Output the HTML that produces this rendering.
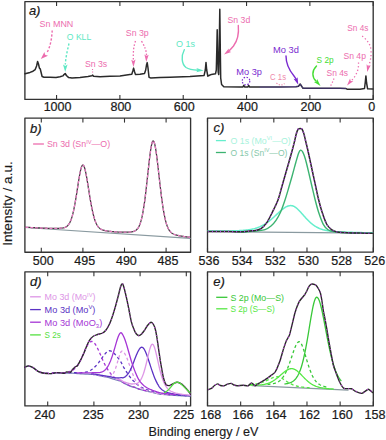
<!DOCTYPE html>
<html><head><meta charset="utf-8"><style>
html,body{margin:0;padding:0;background:#fff;width:386px;height:440px;overflow:hidden;}
svg{display:block;}
</style></head><body>
<svg width="386" height="440" viewBox="0 0 386 440" font-family='"Liberation Sans", sans-serif'>
<rect width="386" height="440" fill="#fff"/>
<rect x="24.9" y="1.6" width="348.3" height="97.8" fill="none" stroke="#333333" stroke-width="1.35" stroke-linejoin="round"/>
<line x1="56.56" y1="1.6" x2="56.56" y2="6.1" stroke="#333333" stroke-width="1.1"/>
<line x1="56.56" y1="99.4" x2="56.56" y2="94.9" stroke="#333333" stroke-width="1.1"/>
<line x1="119.89" y1="1.6" x2="119.89" y2="6.1" stroke="#333333" stroke-width="1.1"/>
<line x1="119.89" y1="99.4" x2="119.89" y2="94.9" stroke="#333333" stroke-width="1.1"/>
<line x1="183.22" y1="1.6" x2="183.22" y2="6.1" stroke="#333333" stroke-width="1.1"/>
<line x1="183.22" y1="99.4" x2="183.22" y2="94.9" stroke="#333333" stroke-width="1.1"/>
<line x1="246.55" y1="1.6" x2="246.55" y2="6.1" stroke="#333333" stroke-width="1.1"/>
<line x1="246.55" y1="99.4" x2="246.55" y2="94.9" stroke="#333333" stroke-width="1.1"/>
<line x1="309.87" y1="1.6" x2="309.87" y2="6.1" stroke="#333333" stroke-width="1.1"/>
<line x1="309.87" y1="99.4" x2="309.87" y2="94.9" stroke="#333333" stroke-width="1.1"/>
<line x1="373.2" y1="1.6" x2="373.2" y2="6.1" stroke="#333333" stroke-width="1.1"/>
<line x1="373.2" y1="99.4" x2="373.2" y2="94.9" stroke="#333333" stroke-width="1.1"/>
<text x="57.56" y="111.2" font-size="12.5" fill="#1a1a1a" text-anchor="middle" stroke="#1a1a1a" stroke-width="0.22">1000</text>
<text x="120.89" y="111.2" font-size="12.5" fill="#1a1a1a" text-anchor="middle" stroke="#1a1a1a" stroke-width="0.22">800</text>
<text x="184.22" y="111.2" font-size="12.5" fill="#1a1a1a" text-anchor="middle" stroke="#1a1a1a" stroke-width="0.22">600</text>
<text x="247.55" y="111.2" font-size="12.5" fill="#1a1a1a" text-anchor="middle" stroke="#1a1a1a" stroke-width="0.22">400</text>
<text x="310.87" y="111.2" font-size="12.5" fill="#1a1a1a" text-anchor="middle" stroke="#1a1a1a" stroke-width="0.22">200</text>
<text x="371.8" y="111.2" font-size="12.5" fill="#1a1a1a" text-anchor="middle" stroke="#1a1a1a" stroke-width="0.22">0</text>
<path d="M25 73.7 L30 72.4 L33 71.2 L35.2 69.6 L36.6 66 L37.6 61.4 L38.5 64 L39.4 68.2 L40.2 68.8 L41 72 L42.1 76.5 L44 77.2 L50 77.3 L56 77.5 L60 76.8 L62.9 75.9 L64 74.6 L65.2 73.5 L66.4 75.5 L68.7 77.6 L72 78 L80 77.4 L88 76.6 L91.8 75.8 L92.7 75.1 L93.6 76.2 L100 76.8 L110 76.3 L120 75.9 L129.8 74.6 L131.8 74.3 L132.8 71 L133.6 68.1 L134.5 71.5 L135.4 74.4 L140 74.3 L144.5 73.5 L145.7 70 L146.5 65 L147.2 62.6 L148 68 L149 77.2 L150.5 77.9 L160 77.6 L170 77.3 L190 76.4 L204.1 75.4 L205.3 70 L206 62.4 L206.7 70 L207.8 76.2 L209 75.5 L211.4 74.4 L215.5 73.8 L216.3 70 L216.8 50 L217.2 29.8 L217.6 50 L218.2 72 L218.7 74.5 L219.2 50 L219.8 9.2 L220.3 50 L220.7 78 L221.6 84.5 L223.8 86.7 L240 86.9 L243 86.9 L243.8 85.4 L244.6 86.9 L248 86.9 L248.7 85.4 L249.5 87 L260 87.1 L280 87 L296 86.7 L298.5 86.2 L300.2 84 L301.8 86.5 L303 88.2 L320 88.2 L340 88.3 L345.6 88.4 L347 89.2 L360 89.2 L364.5 88.5 L365.3 82 L365.9 75.9 L366.6 83 L367.6 88.8 L373 89" fill="none" stroke="#2a2a2a" stroke-width="1.5" stroke-linejoin="round" stroke-linecap="round"/>
<path d="M260 87.1 L280 87 L296 86.7 L298.5 86.2 L300.2 84 L301.8 86.5 L303 88.2 L320 88.2 L340 88.3 L345.6 88.4" fill="none" stroke="#5a3cc0" stroke-width="1" stroke-linejoin="round" stroke-linecap="round" stroke-opacity="0.5"/>
<text x="28.9" y="14.9" font-size="13" fill="#1a1a1a" font-style="italic" stroke="#1a1a1a" stroke-width="0.2">a)</text>
<text x="39.6" y="27.2" font-size="9.4" fill="#ec6cae" textLength="33.7" lengthAdjust="spacingAndGlyphs">Sn MNN</text>
<path d="M52.2 30.5 C51.8 38 50.5 47 46.5 53.5" fill="none" stroke="#ec6cae" stroke-width="1.4" stroke-linejoin="round" stroke-linecap="butt" stroke-dasharray="2.2 1.8"/>
<path d="M40.8 59 L44.38 51.92 L45.11 54.83 L48 55.65 Z" fill="#ec6cae"/>
<text x="66.8" y="40.2" font-size="9.4" fill="#5ee8c4" textLength="24.4" lengthAdjust="spacingAndGlyphs">O KLL</text>
<path d="M69 43.5 C67.5 50 65.8 57 65.3 64.5" fill="none" stroke="#5ee8c4" stroke-width="1.4" stroke-linejoin="round" stroke-linecap="butt" stroke-dasharray="2.2 1.8"/>
<path d="M65.2 72 L62.99 64.47 L65.27 66 L67.59 64.53 Z" fill="#5ee8c4"/>
<text x="84.9" y="66.7" font-size="9.4" fill="#ec6cae" textLength="22.3" lengthAdjust="spacingAndGlyphs">Sn 3s</text>
<path d="M92.5 69 L92.7 74" fill="none" stroke="#ec6cae" stroke-width="1.1" stroke-linejoin="round" stroke-linecap="butt" stroke-dasharray="1 1.5"/>
<text x="125.8" y="36" font-size="9.4" fill="#ec6cae" textLength="22.9" lengthAdjust="spacingAndGlyphs">Sn 3p</text>
<path d="M135.5 41 C133 48 133.2 55 133.4 61" fill="none" stroke="#ec6cae" stroke-width="1.3" stroke-linejoin="round" stroke-linecap="butt" stroke-dasharray="1.6 1.8"/>
<path d="M133.5 67 L131.24 59.63 L133.41 61.08 L135.54 59.57 Z" fill="#ec6cae"/>
<path d="M141.5 41 C145 47 146.5 51 146.5 56" fill="none" stroke="#ec6cae" stroke-width="1.3" stroke-linejoin="round" stroke-linecap="butt" stroke-dasharray="1.6 1.8"/>
<path d="M146.3 62 L144.38 54.54 L146.48 56.08 L148.68 54.67 Z" fill="#ec6cae"/>
<text x="176" y="46.6" font-size="9.4" fill="#5ee8c4" textLength="19.1" lengthAdjust="spacingAndGlyphs">O 1s</text>
<path d="M184.3 49.7 C181 56 181.5 64 186 67.5 C189 69.5 193 70 198 70.2" fill="none" stroke="#5ee8c4" stroke-width="1.4" stroke-linejoin="round" stroke-linecap="round"/>
<path d="M203.7 70.4 L196.23 72.31 L197.78 70.21 L196.37 68.01 Z" fill="#5ee8c4"/>
<text x="227.6" y="23.2" font-size="9.4" fill="#ec6cae" textLength="22.6" lengthAdjust="spacingAndGlyphs">Sn 3d</text>
<path d="M238.3 25.5 C239 33 238 40 233.5 46 C231 49 229 51 228.5 51.5" fill="none" stroke="#ec6cae" stroke-width="1.4" stroke-linejoin="round" stroke-linecap="round"/>
<path d="M224 54.5 L228.72 48.41 L228.79 51.02 L231.25 51.89 Z" fill="#ec6cae"/>
<text x="236.3" y="75.1" font-size="9.4" fill="#7a2bd0" textLength="25.7" lengthAdjust="spacingAndGlyphs">Mo 3p</text>
<ellipse cx="246" cy="81" rx="3.8" ry="3.8" fill="none" stroke="#7a2bd0" stroke-width="1.2" stroke-dasharray="1.5 1.5"/>
<text x="270.1" y="80.4" font-size="9.4" fill="#ee88aa" textLength="15.9" lengthAdjust="spacingAndGlyphs">C 1s</text>
<path d="M276.5 83 C279 85.5 282.5 85.5 284.5 83.5" fill="none" stroke="#ee88aa" stroke-width="1.1" stroke-linejoin="round" stroke-linecap="butt" stroke-dasharray="1.2 1.5"/>
<text x="273" y="52.6" font-size="9.4" fill="#7a2bd0" textLength="25.9" lengthAdjust="spacingAndGlyphs">Mo 3d</text>
<path d="M286 56 C286 63 289 70 294 76 C295.5 78 296 79 296.3 79.5" fill="none" stroke="#7a2bd0" stroke-width="1.4" stroke-linejoin="round" stroke-linecap="round"/>
<path d="M298.3 84.8 L293.57 78.71 L296.12 79.3 L297.57 77.13 Z" fill="#7a2bd0"/>
<text x="316.6" y="62.8" font-size="9.4" fill="#44dd33" textLength="17" lengthAdjust="spacingAndGlyphs">S 2p</text>
<path d="M316.5 66 C311.5 71 312 77 316 81" fill="none" stroke="#44dd33" stroke-width="1.4" stroke-linejoin="round" stroke-linecap="round"/>
<path d="M320.5 86 L313.93 81.97 L316.52 81.62 L317.11 79.08 Z" fill="#44dd33"/>
<text x="326.5" y="75.9" font-size="9.4" fill="#ec6cae" textLength="21.6" lengthAdjust="spacingAndGlyphs">Sn 4s</text>
<path d="M334 78.5 C333 81 332 83.5 330.5 86" fill="none" stroke="#ec6cae" stroke-width="1.2" stroke-linejoin="round" stroke-linecap="butt" stroke-dasharray="1.3 2"/>
<text x="343.5" y="59.3" font-size="9.4" fill="#ec6cae" textLength="22.4" lengthAdjust="spacingAndGlyphs">Sn 4p</text>
<path d="M358.5 62.5 C359 70 356 76 351.5 80.5" fill="none" stroke="#ec6cae" stroke-width="1.3" stroke-linejoin="round" stroke-linecap="butt" stroke-dasharray="1.3 2.3"/>
<path d="M347 85.5 L350.02 78.41 L350.75 80.92 L353.35 81.13 Z" fill="#ec6cae"/>
<text x="347.3" y="30.7" font-size="9.4" fill="#ec6cae" textLength="21.1" lengthAdjust="spacingAndGlyphs">Sn 4s</text>
<path d="M362.2 36 C366.5 39.5 370.5 44 371 50 C371.5 57 370 62 368.8 66" fill="none" stroke="#ec6cae" stroke-width="1.3" stroke-linejoin="round" stroke-linecap="butt" stroke-dasharray="1.3 2.3"/>
<path d="M367.2 72 L366.54 64.32 L368.36 66.19 L370.76 65.17 Z" fill="#ec6cae"/>
<rect x="24.9" y="118.1" width="165.7" height="134.1" fill="none" stroke="#333333" stroke-width="1.35" stroke-linejoin="round"/>
<line x1="41.3" y1="118.1" x2="41.3" y2="122.6" stroke="#333333" stroke-width="1.1"/>
<line x1="41.3" y1="252.2" x2="41.3" y2="247.7" stroke="#333333" stroke-width="1.1"/>
<line x1="82.9" y1="118.1" x2="82.9" y2="122.6" stroke="#333333" stroke-width="1.1"/>
<line x1="82.9" y1="252.2" x2="82.9" y2="247.7" stroke="#333333" stroke-width="1.1"/>
<line x1="124.5" y1="118.1" x2="124.5" y2="122.6" stroke="#333333" stroke-width="1.1"/>
<line x1="124.5" y1="252.2" x2="124.5" y2="247.7" stroke="#333333" stroke-width="1.1"/>
<line x1="166.1" y1="118.1" x2="166.1" y2="122.6" stroke="#333333" stroke-width="1.1"/>
<line x1="166.1" y1="252.2" x2="166.1" y2="247.7" stroke="#333333" stroke-width="1.1"/>
<text x="43.2" y="264.9" font-size="12.5" fill="#1a1a1a" text-anchor="middle" stroke="#1a1a1a" stroke-width="0.22">500</text>
<text x="84.8" y="264.9" font-size="12.5" fill="#1a1a1a" text-anchor="middle" stroke="#1a1a1a" stroke-width="0.22">495</text>
<text x="126.4" y="264.9" font-size="12.5" fill="#1a1a1a" text-anchor="middle" stroke="#1a1a1a" stroke-width="0.22">490</text>
<text x="168" y="264.9" font-size="12.5" fill="#1a1a1a" text-anchor="middle" stroke="#1a1a1a" stroke-width="0.22">485</text>
<path d="M25.2 227.51 L190.2 238.28" fill="none" stroke="#8a9aa0" stroke-width="1.2" stroke-linejoin="round" stroke-linecap="round"/>
<path d="M25.5 227.23 L26 227.26 L26.5 227.28 L27 227.31 L27.5 227.34 L28 227.37 L28.5 227.39 L29 227.42 L29.5 227.45 L30 227.48 L30.5 227.5 L31 227.53 L31.5 227.56 L32 227.58 L32.5 227.61 L33 227.63 L33.5 227.66 L34 227.69 L34.5 227.71 L35 227.74 L35.5 227.76 L36 227.79 L36.5 227.81 L37 227.84 L37.5 227.86 L38 227.88 L38.5 227.91 L39 227.93 L39.5 227.95 L40 227.98 L40.5 228 L41 228.02 L41.5 228.04 L42 228.06 L42.5 228.08 L43 228.1 L43.5 228.12 L44 228.14 L44.5 228.16 L45 228.18 L45.5 228.2 L46 228.22 L46.5 228.23 L47 228.25 L47.5 228.26 L48 228.28 L48.5 228.29 L49 228.31 L49.5 228.32 L50 228.33 L50.5 228.34 L51 228.35 L51.5 228.36 L52 228.37 L52.5 228.38 L53 228.38 L53.5 228.39 L54 228.39 L54.5 228.39 L55 228.39 L55.5 228.39 L56 228.38 L56.5 228.38 L57 228.37 L57.5 228.36 L58 228.35 L58.5 228.33 L59 228.31 L59.5 228.29 L60 228.26 L60.5 228.22 L61 228.18 L61.5 228.13 L62 228.07 L62.5 228 L63 227.92 L63.5 227.81 L64 227.69 L64.5 227.54 L65 227.37 L65.5 227.15 L66 226.9 L66.5 226.59 L67 226.23 L67.5 225.8 L68 225.28 L68.5 224.68 L69 223.98 L69.5 223.16 L70 222.21 L70.5 221.13 L71 219.89 L71.5 218.48 L72 216.9 L72.5 215.13 L73 213.18 L73.5 211.04 L74 208.7 L74.5 206.18 L75 203.49 L75.5 200.63 L76 197.64 L76.5 194.53 L77 191.35 L77.5 188.12 L78 184.89 L78.5 181.72 L79 178.65 L79.5 175.74 L80 173.06 L80.5 170.67 L81 168.64 L81.5 167.01 L82 165.86 L82.5 165.2 L83 165.07 L83.5 165.44 L84 166.29 L84.5 167.59 L85 169.3 L85.5 171.39 L86 173.78 L86.5 176.44 L87 179.3 L87.5 182.3 L88 185.4 L88.5 188.55 L89 191.7 L89.5 194.82 L90 197.87 L90.5 200.82 L91 203.65 L91.5 206.33 L92 208.86 L92.5 211.23 L93 213.42 L93.5 215.43 L94 217.27 L94.5 218.93 L95 220.44 L95.5 221.78 L96 222.98 L96.5 224.03 L97 224.97 L97.5 225.78 L98 226.5 L98.5 227.12 L99 227.65 L99.5 228.12 L100 228.53 L100.5 228.88 L101 229.18 L101.5 229.44 L102 229.67 L102.5 229.87 L103 230.05 L103.5 230.21 L104 230.35 L104.5 230.47 L105 230.59 L105.5 230.69 L106 230.79 L106.5 230.88 L107 230.96 L107.5 231.04 L108 231.11 L108.5 231.18 L109 231.25 L109.5 231.31 L110 231.37 L110.5 231.42 L111 231.48 L111.5 231.53 L112 231.58 L112.5 231.63 L113 231.67 L113.5 231.71 L114 231.76 L114.5 231.8 L115 231.83 L115.5 231.87 L116 231.9 L116.5 231.94 L117 231.97 L117.5 232 L118 232.03 L118.5 232.05 L119 232.08 L119.5 232.1 L120 232.12 L120.5 232.14 L121 232.16 L121.5 232.17 L122 232.18 L122.5 232.19 L123 232.2 L123.5 232.21 L124 232.22 L124.5 232.22 L125 232.22 L125.5 232.21 L126 232.21 L126.5 232.2 L127 232.19 L127.5 232.17 L128 232.15 L128.5 232.13 L129 232.1 L129.5 232.06 L130 232.02 L130.5 231.97 L131 231.91 L131.5 231.84 L132 231.76 L132.5 231.67 L133 231.55 L133.5 231.41 L134 231.25 L134.5 231.05 L135 230.82 L135.5 230.54 L136 230.2 L136.5 229.8 L137 229.32 L137.5 228.76 L138 228.09 L138.5 227.3 L139 226.37 L139.5 225.29 L140 224.03 L140.5 222.59 L141 220.93 L141.5 219.05 L142 216.93 L142.5 214.54 L143 211.89 L143.5 208.97 L144 205.77 L144.5 202.3 L145 198.57 L145.5 194.6 L146 190.41 L146.5 186.04 L147 181.52 L147.5 176.9 L148 172.25 L148.5 167.63 L149 163.11 L149.5 158.77 L150 154.71 L150.5 151.01 L151 147.76 L151.5 145.06 L152 142.98 L152.5 141.59 L153 140.94 L153.5 141.04 L154 141.82 L154.5 143.26 L155 145.31 L155.5 147.92 L156 151.02 L156.5 154.54 L157 158.39 L157.5 162.5 L158 166.79 L158.5 171.2 L159 175.67 L159.5 180.12 L160 184.51 L160.5 188.8 L161 192.94 L161.5 196.91 L162 200.68 L162.5 204.22 L163 207.53 L163.5 210.59 L164 213.41 L164.5 215.99 L165 218.33 L165.5 220.43 L166 222.32 L166.5 224 L167 225.49 L167.5 226.81 L168 227.96 L168.5 228.97 L169 229.85 L169.5 230.61 L170 231.28 L170.5 231.85 L171 232.35 L171.5 232.79 L172 233.16 L172.5 233.49 L173 233.78 L173.5 234.04 L174 234.27 L174.5 234.47 L175 234.65 L175.5 234.82 L176 234.97 L176.5 235.11 L177 235.24 L177.5 235.36 L178 235.48 L178.5 235.59 L179 235.69 L179.5 235.79 L180 235.88 L180.5 235.97 L181 236.06 L181.5 236.14 L182 236.23 L182.5 236.31 L183 236.38 L183.5 236.46 L184 236.53 L184.5 236.6 L185 236.67 L185.5 236.74 L186 236.81 L186.5 236.87 L187 236.94 L187.5 237 L188 237.06 L188.5 237.12 L189 237.18 L189.5 237.24 L190 237.3" fill="none" stroke="#3a3a3a" stroke-width="1.25" stroke-linejoin="round" stroke-linecap="round"/>
<path d="M25.5 227.23 L26 227.26 L26.5 227.28 L27 227.31 L27.5 227.34 L28 227.37 L28.5 227.39 L29 227.42 L29.5 227.45 L30 227.48 L30.5 227.5 L31 227.53 L31.5 227.56 L32 227.58 L32.5 227.61 L33 227.63 L33.5 227.66 L34 227.69 L34.5 227.71 L35 227.74 L35.5 227.76 L36 227.79 L36.5 227.81 L37 227.84 L37.5 227.86 L38 227.88 L38.5 227.91 L39 227.93 L39.5 227.95 L40 227.98 L40.5 228 L41 228.02 L41.5 228.04 L42 228.06 L42.5 228.08 L43 228.1 L43.5 228.12 L44 228.14 L44.5 228.16 L45 228.18 L45.5 228.2 L46 228.22 L46.5 228.23 L47 228.25 L47.5 228.26 L48 228.28 L48.5 228.29 L49 228.31 L49.5 228.32 L50 228.33 L50.5 228.34 L51 228.35 L51.5 228.36 L52 228.37 L52.5 228.38 L53 228.38 L53.5 228.39 L54 228.39 L54.5 228.39 L55 228.39 L55.5 228.39 L56 228.38 L56.5 228.38 L57 228.37 L57.5 228.36 L58 228.35 L58.5 228.33 L59 228.31 L59.5 228.29 L60 228.26 L60.5 228.22 L61 228.18 L61.5 228.13 L62 228.07 L62.5 228 L63 227.92 L63.5 227.81 L64 227.69 L64.5 227.54 L65 227.37 L65.5 227.15 L66 226.9 L66.5 226.59 L67 226.23 L67.5 225.8 L68 225.28 L68.5 224.68 L69 223.98 L69.5 223.16 L70 222.21 L70.5 221.13 L71 219.89 L71.5 218.48 L72 216.9 L72.5 215.13 L73 213.18 L73.5 211.04 L74 208.7 L74.5 206.18 L75 203.49 L75.5 200.63 L76 197.64 L76.5 194.53 L77 191.35 L77.5 188.12 L78 184.89 L78.5 181.72 L79 178.65 L79.5 175.74 L80 173.06 L80.5 170.67 L81 168.64 L81.5 167.01 L82 165.86 L82.5 165.2 L83 165.07 L83.5 165.44 L84 166.29 L84.5 167.59 L85 169.3 L85.5 171.39 L86 173.78 L86.5 176.44 L87 179.3 L87.5 182.3 L88 185.4 L88.5 188.55 L89 191.7 L89.5 194.82 L90 197.87 L90.5 200.82 L91 203.65 L91.5 206.33 L92 208.86 L92.5 211.23 L93 213.42 L93.5 215.43 L94 217.27 L94.5 218.93 L95 220.44 L95.5 221.78 L96 222.98 L96.5 224.03 L97 224.97 L97.5 225.78 L98 226.5 L98.5 227.12 L99 227.65 L99.5 228.12 L100 228.53 L100.5 228.88 L101 229.18 L101.5 229.44 L102 229.67 L102.5 229.87 L103 230.05 L103.5 230.21 L104 230.35 L104.5 230.47 L105 230.59 L105.5 230.69 L106 230.79 L106.5 230.88 L107 230.96 L107.5 231.04 L108 231.11 L108.5 231.18 L109 231.25 L109.5 231.31 L110 231.37 L110.5 231.42 L111 231.48 L111.5 231.53 L112 231.58 L112.5 231.63 L113 231.67 L113.5 231.71 L114 231.76 L114.5 231.8 L115 231.83 L115.5 231.87 L116 231.9 L116.5 231.94 L117 231.97 L117.5 232 L118 232.03 L118.5 232.05 L119 232.08 L119.5 232.1 L120 232.12 L120.5 232.14 L121 232.16 L121.5 232.17 L122 232.18 L122.5 232.19 L123 232.2 L123.5 232.21 L124 232.22 L124.5 232.22 L125 232.22 L125.5 232.21 L126 232.21 L126.5 232.2 L127 232.19 L127.5 232.17 L128 232.15 L128.5 232.13 L129 232.1 L129.5 232.06 L130 232.02 L130.5 231.97 L131 231.91 L131.5 231.84 L132 231.76 L132.5 231.67 L133 231.55 L133.5 231.41 L134 231.25 L134.5 231.05 L135 230.82 L135.5 230.54 L136 230.2 L136.5 229.8 L137 229.32 L137.5 228.76 L138 228.09 L138.5 227.3 L139 226.37 L139.5 225.29 L140 224.03 L140.5 222.59 L141 220.93 L141.5 219.05 L142 216.93 L142.5 214.54 L143 211.89 L143.5 208.97 L144 205.77 L144.5 202.3 L145 198.57 L145.5 194.6 L146 190.41 L146.5 186.04 L147 181.52 L147.5 176.9 L148 172.25 L148.5 167.63 L149 163.11 L149.5 158.77 L150 154.71 L150.5 151.01 L151 147.76 L151.5 145.06 L152 142.98 L152.5 141.59 L153 140.94 L153.5 141.04 L154 141.82 L154.5 143.26 L155 145.31 L155.5 147.92 L156 151.02 L156.5 154.54 L157 158.39 L157.5 162.5 L158 166.79 L158.5 171.2 L159 175.67 L159.5 180.12 L160 184.51 L160.5 188.8 L161 192.94 L161.5 196.91 L162 200.68 L162.5 204.22 L163 207.53 L163.5 210.59 L164 213.41 L164.5 215.99 L165 218.33 L165.5 220.43 L166 222.32 L166.5 224 L167 225.49 L167.5 226.81 L168 227.96 L168.5 228.97 L169 229.85 L169.5 230.61 L170 231.28 L170.5 231.85 L171 232.35 L171.5 232.79 L172 233.16 L172.5 233.49 L173 233.78 L173.5 234.04 L174 234.27 L174.5 234.47 L175 234.65 L175.5 234.82 L176 234.97 L176.5 235.11 L177 235.24 L177.5 235.36 L178 235.48 L178.5 235.59 L179 235.69 L179.5 235.79 L180 235.88 L180.5 235.97 L181 236.06 L181.5 236.14 L182 236.23 L182.5 236.31 L183 236.38 L183.5 236.46 L184 236.53 L184.5 236.6 L185 236.67 L185.5 236.74 L186 236.81 L186.5 236.87 L187 236.94 L187.5 237 L188 237.06 L188.5 237.12 L189 237.18 L189.5 237.24 L190 237.3" fill="none" stroke="#e67cc2" stroke-width="1.3" stroke-linejoin="round" stroke-linecap="butt" stroke-dasharray="3 1.8"/>
<text x="30" y="133.4" font-size="13" fill="#1a1a1a" font-style="italic" stroke="#1a1a1a" stroke-width="0.2">b)</text>
<line x1="33.1" y1="144" x2="43.9" y2="144" stroke="#ec6cae" stroke-width="1.3"/>
<text x="46.9" y="147.3" font-size="9.4" fill="#ec6cae" textLength="63.2" lengthAdjust="spacingAndGlyphs">Sn 3d (Sn<tspan font-size="6" dy="-3.6">IV</tspan><tspan dy="3.6">—O)</tspan></text>
<rect x="207.5" y="118.1" width="165.8" height="134" fill="none" stroke="#333333" stroke-width="1.35" stroke-linejoin="round"/>
<line x1="207.5" y1="118.1" x2="207.5" y2="122.6" stroke="#333333" stroke-width="1.1"/>
<line x1="207.5" y1="252.1" x2="207.5" y2="247.6" stroke="#333333" stroke-width="1.1"/>
<line x1="240.66" y1="118.1" x2="240.66" y2="122.6" stroke="#333333" stroke-width="1.1"/>
<line x1="240.66" y1="252.1" x2="240.66" y2="247.6" stroke="#333333" stroke-width="1.1"/>
<line x1="273.82" y1="118.1" x2="273.82" y2="122.6" stroke="#333333" stroke-width="1.1"/>
<line x1="273.82" y1="252.1" x2="273.82" y2="247.6" stroke="#333333" stroke-width="1.1"/>
<line x1="306.98" y1="118.1" x2="306.98" y2="122.6" stroke="#333333" stroke-width="1.1"/>
<line x1="306.98" y1="252.1" x2="306.98" y2="247.6" stroke="#333333" stroke-width="1.1"/>
<line x1="340.14" y1="118.1" x2="340.14" y2="122.6" stroke="#333333" stroke-width="1.1"/>
<line x1="340.14" y1="252.1" x2="340.14" y2="247.6" stroke="#333333" stroke-width="1.1"/>
<line x1="373.3" y1="118.1" x2="373.3" y2="122.6" stroke="#333333" stroke-width="1.1"/>
<line x1="373.3" y1="252.1" x2="373.3" y2="247.6" stroke="#333333" stroke-width="1.1"/>
<text x="209" y="264.9" font-size="12.5" fill="#1a1a1a" text-anchor="middle" stroke="#1a1a1a" stroke-width="0.22">536</text>
<text x="242.16" y="264.9" font-size="12.5" fill="#1a1a1a" text-anchor="middle" stroke="#1a1a1a" stroke-width="0.22">534</text>
<text x="275.32" y="264.9" font-size="12.5" fill="#1a1a1a" text-anchor="middle" stroke="#1a1a1a" stroke-width="0.22">532</text>
<text x="308.48" y="264.9" font-size="12.5" fill="#1a1a1a" text-anchor="middle" stroke="#1a1a1a" stroke-width="0.22">530</text>
<text x="341.64" y="264.9" font-size="12.5" fill="#1a1a1a" text-anchor="middle" stroke="#1a1a1a" stroke-width="0.22">528</text>
<text x="374.8" y="264.9" font-size="12.5" fill="#1a1a1a" text-anchor="middle" stroke="#1a1a1a" stroke-width="0.22">526</text>
<path d="M208 231.6 L372.5 233.19" fill="none" stroke="#8a9aa0" stroke-width="1.2" stroke-linejoin="round" stroke-linecap="round"/>
<path d="M208 231.11 L208.5 231.11 L209 231.11 L209.5 231.11 L210 231.11 L210.5 231.1 L211 231.1 L211.5 231.1 L212 231.1 L212.5 231.1 L213 231.1 L213.5 231.09 L214 231.09 L214.5 231.09 L215 231.09 L215.5 231.08 L216 231.08 L216.5 231.08 L217 231.08 L217.5 231.07 L218 231.07 L218.5 231.07 L219 231.06 L219.5 231.06 L220 231.06 L220.5 231.05 L221 231.05 L221.5 231.04 L222 231.04 L222.5 231.03 L223 231.03 L223.5 231.02 L224 231.02 L224.5 231.01 L225 231 L225.5 231 L226 230.99 L226.5 230.98 L227 230.98 L227.5 230.97 L228 230.96 L228.5 230.95 L229 230.94 L229.5 230.93 L230 230.92 L230.5 230.91 L231 230.9 L231.5 230.89 L232 230.88 L232.5 230.87 L233 230.86 L233.5 230.84 L234 230.83 L234.5 230.81 L235 230.8 L235.5 230.78 L236 230.76 L236.5 230.74 L237 230.73 L237.5 230.7 L238 230.68 L238.5 230.66 L239 230.64 L239.5 230.61 L240 230.58 L240.5 230.56 L241 230.53 L241.5 230.49 L242 230.46 L242.5 230.43 L243 230.39 L243.5 230.35 L244 230.31 L244.5 230.26 L245 230.22 L245.5 230.17 L246 230.11 L246.5 230.06 L247 230 L247.5 229.94 L248 229.87 L248.5 229.8 L249 229.73 L249.5 229.65 L250 229.57 L250.5 229.48 L251 229.39 L251.5 229.3 L252 229.2 L252.5 229.09 L253 228.98 L253.5 228.86 L254 228.74 L254.5 228.6 L255 228.47 L255.5 228.32 L256 228.17 L256.5 228.01 L257 227.85 L257.5 227.68 L258 227.5 L258.5 227.31 L259 227.11 L259.5 226.9 L260 226.69 L260.5 226.46 L261 226.23 L261.5 225.99 L262 225.74 L262.5 225.48 L263 225.21 L263.5 224.93 L264 224.64 L264.5 224.34 L265 224.03 L265.5 223.71 L266 223.38 L266.5 223.04 L267 222.7 L267.5 222.34 L268 221.97 L268.5 221.6 L269 221.21 L269.5 220.82 L270 220.42 L270.5 220.01 L271 219.59 L271.5 219.17 L272 218.74 L272.5 218.3 L273 217.85 L273.5 217.4 L274 216.95 L274.5 216.49 L275 216.03 L275.5 215.56 L276 215.1 L276.5 214.63 L277 214.16 L277.5 213.69 L278 213.23 L278.5 212.76 L279 212.3 L279.5 211.85 L280 211.4 L280.5 210.96 L281 210.52 L281.5 210.1 L282 209.69 L282.5 209.29 L283 208.9 L283.5 208.53 L284 208.17 L284.5 207.83 L285 207.51 L285.5 207.21 L286 206.94 L286.5 206.68 L287 206.45 L287.5 206.25 L288 206.07 L288.5 205.92 L289 205.8 L289.5 205.71 L290 205.65 L290.5 205.61 L291 205.61 L291.5 205.64 L292 205.72 L292.5 205.84 L293 205.99 L293.5 206.19 L294 206.43 L294.5 206.7 L295 207.01 L295.5 207.35 L296 207.72 L296.5 208.12 L297 208.54 L297.5 208.99 L298 209.46 L298.5 209.95 L299 210.46 L299.5 210.98 L300 211.51 L300.5 212.05 L301 212.6 L301.5 213.16 L302 213.72 L302.5 214.29 L303 214.86 L303.5 215.42 L304 215.99 L304.5 216.55 L305 217.1 L305.5 217.66 L306 218.2 L306.5 218.74 L307 219.27 L307.5 219.78 L308 220.29 L308.5 220.79 L309 221.28 L309.5 221.75 L310 222.21 L310.5 222.66 L311 223.1 L311.5 223.52 L312 223.93 L312.5 224.33 L313 224.71 L313.5 225.08 L314 225.43 L314.5 225.77 L315 226.1 L315.5 226.42 L316 226.72 L316.5 227 L317 227.28 L317.5 227.54 L318 227.79 L318.5 228.03 L319 228.26 L319.5 228.47 L320 228.68 L320.5 228.87 L321 229.06 L321.5 229.23 L322 229.4 L322.5 229.56 L323 229.71 L323.5 229.85 L324 229.98 L324.5 230.1 L325 230.22 L325.5 230.33 L326 230.44 L326.5 230.54 L327 230.63 L327.5 230.72 L328 230.8 L328.5 230.88 L329 230.96 L329.5 231.03 L330 231.09 L330.5 231.15 L331 231.21 L331.5 231.27 L332 231.32 L332.5 231.37 L333 231.42 L333.5 231.47 L334 231.51 L334.5 231.55 L335 231.59 L335.5 231.63 L336 231.66 L336.5 231.7 L337 231.73 L337.5 231.76 L338 231.79 L338.5 231.82 L339 231.85 L339.5 231.88 L340 231.9 L340.5 231.93 L341 231.95 L341.5 231.98 L342 232 L342.5 232.02 L343 232.04 L343.5 232.06 L344 232.09 L344.5 232.11 L345 232.12 L345.5 232.14 L346 232.16 L346.5 232.18 L347 232.2 L347.5 232.22 L348 232.23 L348.5 232.25 L349 232.27 L349.5 232.28 L350 232.3 L350.5 232.31 L351 232.33 L351.5 232.34 L352 232.36 L352.5 232.37 L353 232.39 L353.5 232.4 L354 232.42 L354.5 232.43 L355 232.44 L355.5 232.46 L356 232.47 L356.5 232.48 L357 232.5 L357.5 232.51 L358 232.52 L358.5 232.53 L359 232.54 L359.5 232.56 L360 232.57 L360.5 232.58 L361 232.59 L361.5 232.6 L362 232.61 L362.5 232.63 L363 232.64 L363.5 232.65 L364 232.66 L364.5 232.67 L365 232.68 L365.5 232.69 L366 232.7 L366.5 232.71 L367 232.72 L367.5 232.73 L368 232.74 L368.5 232.75 L369 232.76 L369.5 232.77 L370 232.78 L370.5 232.79 L371 232.8 L371.5 232.81 L372 232.82 L372.5 232.83" fill="none" stroke="#66eecc" stroke-width="1.5" stroke-linejoin="round" stroke-linecap="round"/>
<path d="M235 231.87 C236.67 231.88 242.17 232.06 245 231.96 C247.83 231.87 249.83 231.49 252 231.3 C254.17 231.11 255.83 231.08 258 230.8 C260.17 230.52 262.83 230.4 265 229.6 C267.17 228.8 269.17 227.55 271 226 C272.83 224.45 274.42 222.58 276 220.3 C277.58 218.02 279 215.68 280.5 212.3 C282 208.92 283.62 204.13 285 200 C286.38 195.87 287.57 191.67 288.8 187.5 C290.03 183.33 291.23 179.17 292.4 175 C293.57 170.83 294.77 166.13 295.8 162.5 C296.83 158.87 297.8 155.25 298.6 153.2 C299.4 151.15 299.95 150.47 300.6 150.2 C301.25 149.93 301.87 150.63 302.5 151.6 C303.13 152.57 303.77 154.18 304.4 156 C305.03 157.82 305.48 159.33 306.3 162.5 C307.12 165.67 308.32 170.83 309.3 175 C310.28 179.17 311.22 183.33 312.2 187.5 C313.18 191.67 314.12 195.83 315.2 200 C316.28 204.17 317.35 208.45 318.7 212.5 C320.05 216.55 321.75 221.42 323.3 224.3 C324.85 227.18 326.22 228.53 328 229.8 C329.78 231.07 331.67 231.45 334 231.9 C336.33 232.35 339.33 232.32 342 232.5 C344.67 232.68 347.33 232.88 350 232.98 C352.67 233.07 356.67 233.04 358 233.05" fill="none" stroke="#3cb371" stroke-width="1.4" stroke-linejoin="round" stroke-linecap="round"/>
<path d="M208 231.4 C209.17 231.42 212.17 231.45 215 231.47 C217.83 231.5 221.67 231.54 225 231.57 C228.33 231.6 232 231.64 235 231.67 C238 231.69 240.5 231.85 243 231.74 C245.5 231.63 247.92 231.22 250 231 C252.08 230.78 253.67 230.8 255.5 230.4 C257.33 230 259.12 229.9 261 228.6 C262.88 227.3 264.92 225.32 266.8 222.6 C268.68 219.88 270.43 216.07 272.3 212.3 C274.17 208.53 276.45 204.13 278 200 C279.55 195.87 280.4 191.67 281.6 187.5 C282.8 183.33 284 179.17 285.2 175 C286.4 170.83 287.62 166.67 288.8 162.5 C289.98 158.33 291.33 153.58 292.3 150 C293.27 146.42 293.93 143.7 294.6 141 C295.27 138.3 295.75 135.72 296.3 133.8 C296.85 131.88 297.28 130.4 297.9 129.5 C298.52 128.6 299.3 128.43 300 128.4 C300.7 128.37 301.47 128.45 302.1 129.3 C302.73 130.15 303.23 131.63 303.8 133.5 C304.37 135.37 304.83 137.75 305.5 140.5 C306.17 143.25 306.97 146.33 307.8 150 C308.63 153.67 309.6 158.33 310.5 162.5 C311.4 166.67 312.3 170.83 313.2 175 C314.1 179.17 314.98 183.33 315.9 187.5 C316.82 191.67 317.65 195.83 318.7 200 C319.75 204.17 320.88 208.5 322.2 212.5 C323.52 216.5 325.05 221.15 326.6 224 C328.15 226.85 329.77 228.28 331.5 229.6 C333.23 230.92 334.92 231.4 337 231.9 C339.08 232.4 341.5 232.42 344 232.6 C346.5 232.78 349.33 232.92 352 233 C354.67 233.08 356.58 233.04 360 233.07 C363.42 233.11 370.42 233.17 372.5 233.19" fill="none" stroke="#2a2a2a" stroke-width="1.5" stroke-linejoin="round" stroke-linecap="round"/>
<path d="M208 231.4 C209.17 231.42 212.17 231.45 215 231.47 C217.83 231.5 221.67 231.54 225 231.57 C228.33 231.6 232 231.64 235 231.67 C238 231.69 240.5 231.85 243 231.74 C245.5 231.63 247.92 231.22 250 231 C252.08 230.78 253.67 230.8 255.5 230.4 C257.33 230 259.12 229.9 261 228.6 C262.88 227.3 264.92 225.32 266.8 222.6 C268.68 219.88 270.43 216.07 272.3 212.3 C274.17 208.53 276.45 204.13 278 200 C279.55 195.87 280.4 191.67 281.6 187.5 C282.8 183.33 284 179.17 285.2 175 C286.4 170.83 287.62 166.67 288.8 162.5 C289.98 158.33 291.33 153.58 292.3 150 C293.27 146.42 293.93 143.7 294.6 141 C295.27 138.3 295.75 135.72 296.3 133.8 C296.85 131.88 297.28 130.4 297.9 129.5 C298.52 128.6 299.3 128.43 300 128.4 C300.7 128.37 301.47 128.45 302.1 129.3 C302.73 130.15 303.23 131.63 303.8 133.5 C304.37 135.37 304.83 137.75 305.5 140.5 C306.17 143.25 306.97 146.33 307.8 150 C308.63 153.67 309.6 158.33 310.5 162.5 C311.4 166.67 312.3 170.83 313.2 175 C314.1 179.17 314.98 183.33 315.9 187.5 C316.82 191.67 317.65 195.83 318.7 200 C319.75 204.17 320.88 208.5 322.2 212.5 C323.52 216.5 325.05 221.15 326.6 224 C328.15 226.85 329.77 228.28 331.5 229.6 C333.23 230.92 334.92 231.4 337 231.9 C339.08 232.4 341.5 232.42 344 232.6 C346.5 232.78 349.33 232.92 352 233 C354.67 233.08 356.58 233.04 360 233.07 C363.42 233.11 370.42 233.17 372.5 233.19" fill="none" stroke="#b040e0" stroke-width="1.5" stroke-linejoin="round" stroke-linecap="butt" stroke-dasharray="1 3"/>
<text x="213.6" y="131.8" font-size="13" fill="#1a1a1a" font-style="italic" stroke="#1a1a1a" stroke-width="0.2">c)</text>
<line x1="215.9" y1="140.6" x2="225.9" y2="140.6" stroke="#66eecc" stroke-width="1.3"/>
<text x="230.4" y="143.7" font-size="9.4" fill="#a8f2dc" textLength="60.4" lengthAdjust="spacingAndGlyphs">O 1s (Mo<tspan font-size="6" dy="-3.6">VI</tspan><tspan dy="3.6">—O)</tspan></text>
<line x1="215.9" y1="152.5" x2="225.9" y2="152.5" stroke="#3cb371" stroke-width="1.3"/>
<text x="230.4" y="155.8" font-size="9.4" fill="#86c8aa" textLength="57" lengthAdjust="spacingAndGlyphs">O 1s (Sn<tspan font-size="6" dy="-3.6">IV</tspan><tspan dy="3.6">—O)</tspan></text>
<rect x="24.9" y="271.8" width="165.7" height="134.1" fill="none" stroke="#333333" stroke-width="1.35" stroke-linejoin="round"/>
<line x1="47.7" y1="271.8" x2="47.7" y2="276.3" stroke="#333333" stroke-width="1.1"/>
<line x1="47.7" y1="405.9" x2="47.7" y2="401.4" stroke="#333333" stroke-width="1.1"/>
<line x1="93.9" y1="271.8" x2="93.9" y2="276.3" stroke="#333333" stroke-width="1.1"/>
<line x1="93.9" y1="405.9" x2="93.9" y2="401.4" stroke="#333333" stroke-width="1.1"/>
<line x1="140.1" y1="271.8" x2="140.1" y2="276.3" stroke="#333333" stroke-width="1.1"/>
<line x1="140.1" y1="405.9" x2="140.1" y2="401.4" stroke="#333333" stroke-width="1.1"/>
<line x1="186.3" y1="271.8" x2="186.3" y2="276.3" stroke="#333333" stroke-width="1.1"/>
<line x1="186.3" y1="405.9" x2="186.3" y2="401.4" stroke="#333333" stroke-width="1.1"/>
<text x="44.7" y="418.8" font-size="12.6" fill="#1a1a1a" text-anchor="middle" stroke="#1a1a1a" stroke-width="0.22">240</text>
<text x="93.2" y="418.8" font-size="12.6" fill="#1a1a1a" text-anchor="middle" stroke="#1a1a1a" stroke-width="0.22">235</text>
<text x="138.6" y="418.8" font-size="12.6" fill="#1a1a1a" text-anchor="middle" stroke="#1a1a1a" stroke-width="0.22">230</text>
<text x="183.8" y="418.8" font-size="12.6" fill="#1a1a1a" text-anchor="middle" stroke="#1a1a1a" stroke-width="0.22">225</text>
<path d="M25.5 367.01 C25.92 366.86 27.16 366.15 27.99 366.09 C28.82 366.03 29.65 366.39 30.48 366.63 C31.32 366.88 32.15 367.09 32.98 367.55 C33.81 368.02 34.64 368.78 35.47 369.4 C36.3 370.02 37.13 370.82 37.96 371.29 C38.79 371.76 39.62 371.96 40.45 372.23 C41.29 372.5 42.12 372.74 42.95 372.91 C43.78 373.09 44.61 373.2 45.44 373.28 C46.27 373.36 47.1 373.37 47.93 373.42 C48.76 373.46 49.59 373.57 50.42 373.56 C51.26 373.54 52.09 373.44 52.92 373.35 C53.75 373.25 54.58 373.06 55.41 372.98 C56.24 372.9 57.07 372.87 57.9 372.87 C58.73 372.88 59.56 372.96 60.39 373.01 C61.22 373.05 62.06 373.12 62.89 373.14 C63.72 373.17 64.55 373.16 65.38 373.15 C66.21 373.14 67.04 373.09 67.87 373.07 C68.7 373.05 69.53 373 70.36 373.03 C71.19 373.06 72.03 373.16 72.86 373.23 C73.69 373.29 74.52 373.36 75.35 373.43 C76.18 373.49 77.01 373.56 77.84 373.63 C78.67 373.69 79.5 373.76 80.33 373.82 C81.16 373.87 81.99 373.9 82.83 373.94 C83.66 373.98 84.49 374.02 85.32 374.07 C86.15 374.11 86.98 374.15 87.81 374.19 C88.64 374.23 89.47 374.27 90.3 374.32 C91.13 374.38 91.96 374.45 92.8 374.52 C93.63 374.6 94.46 374.63 95.29 374.76 C96.12 374.89 96.95 375.13 97.78 375.31 C98.61 375.49 99.44 375.68 100.27 375.86 C101.1 376.04 101.93 376.21 102.77 376.38 C103.6 376.56 104.43 376.73 105.26 376.91 C106.09 377.08 106.92 377.24 107.75 377.43 C108.58 377.62 109.41 377.81 110.24 378.05 C111.07 378.29 111.9 378.6 112.73 378.88 C113.57 379.16 114.4 379.46 115.23 379.71 C116.06 379.96 116.89 380.16 117.72 380.38 C118.55 380.61 119.38 380.68 120.21 381.04 C121.04 381.4 121.87 382.05 122.7 382.52 C123.54 382.99 124.37 383.44 125.2 383.85 C126.03 384.26 126.86 384.6 127.69 384.97 C128.52 385.34 129.35 385.77 130.18 386.09 C131.01 386.41 131.84 386.66 132.67 386.9 C133.51 387.15 134.34 387.28 135.17 387.57 C136 387.87 136.83 388.34 137.66 388.66 C138.49 388.98 139.32 389.26 140.15 389.51 C140.98 389.75 141.81 389.92 142.64 390.12 C143.47 390.33 144.31 390.54 145.14 390.74 C145.97 390.94 146.8 391.15 147.63 391.35 C148.46 391.55 149.29 391.74 150.12 391.94 C150.95 392.14 151.78 392.34 152.61 392.54 C153.44 392.73 154.28 392.93 155.11 393.13 C155.94 393.33 156.77 393.53 157.6 393.73 C158.43 393.92 159.26 394.18 160.09 394.31 C160.92 394.43 161.75 394.43 162.58 394.49 C163.41 394.56 164.24 394.62 165.08 394.68 C165.91 394.74 166.74 394.81 167.57 394.87 C168.4 394.93 169.23 394.99 170.06 395.05 C170.89 395.12 171.72 395.18 172.55 395.24 C173.38 395.3 174.21 395.37 175.05 395.43 C175.88 395.49 176.71 395.54 177.54 395.59 C178.37 395.64 179.2 395.68 180.03 395.73 C180.86 395.77 181.69 395.82 182.52 395.86 C183.35 395.91 184.18 395.96 185.02 396 C185.85 396.05 186.68 396.1 187.51 396.14 C188.34 396.19 189.58 396.26 190 396.28" fill="none" stroke="#7a80b8" stroke-width="1.2" stroke-linejoin="round" stroke-linecap="round"/>
<path d="M52 373.23 L52.5 373.15 L53 373.07 L53.5 372.99 L54 372.91 L54.5 372.83 L55 372.75 L55.5 372.68 L56 372.6 L56.5 372.52 L57 372.52 L57.5 372.54 L58 372.56 L58.5 372.58 L59 372.61 L59.5 372.63 L60 372.65 L60.5 372.67 L61 372.69 L61.5 372.71 L62 372.73 L62.5 372.75 L63 372.77 L63.5 372.79 L64 372.8 L64.5 372.78 L65 372.75 L65.5 372.73 L66 372.7 L66.5 372.67 L67 372.65 L67.5 372.62 L68 372.6 L68.5 372.57 L69 372.54 L69.5 372.51 L70 372.48 L70.5 372.51 L71 372.54 L71.5 372.56 L72 372.59 L72.5 372.61 L73 372.64 L73.5 372.66 L74 372.68 L74.5 372.7 L75 372.72 L75.5 372.74 L76 372.76 L76.5 372.77 L77 372.79 L77.5 372.8 L78 372.81 L78.5 372.81 L79 372.81 L79.5 372.81 L80 372.81 L80.5 372.78 L81 372.76 L81.5 372.72 L82 372.68 L82.5 372.63 L83 372.58 L83.5 372.52 L84 372.45 L84.5 372.37 L85 372.28 L85.5 372.17 L86 372.06 L86.5 371.93 L87 371.78 L87.5 371.62 L88 371.44 L88.5 371.25 L89 371.03 L89.5 370.8 L90 370.54 L90.5 370.27 L91 369.98 L91.5 369.66 L92 369.32 L92.5 368.95 L93 368.55 L93.5 368.12 L94 367.67 L94.5 367.18 L95 366.67 L95.5 366.2 L96 365.69 L96.5 365.16 L97 364.61 L97.5 364.02 L98 363.42 L98.5 362.79 L99 362.13 L99.5 361.47 L100 360.78 L100.5 360.08 L101 359.37 L101.5 358.66 L102 357.94 L102.5 357.23 L103 356.53 L103.5 355.84 L104 355.17 L104.5 354.53 L105 353.91 L105.5 353.34 L106 352.8 L106.5 352.32 L107 351.89 L107.5 351.51 L108 351.21 L108.5 350.97 L109 350.81 L109.5 350.73 L110 350.79 L110.5 350.93 L111 351.13 L111.5 351.38 L112 351.66 L112.5 352 L113 352.37 L113.5 352.79 L114 353.24 L114.5 353.74 L115 354.26 L115.5 354.83 L116 355.38 L116.5 355.97 L117 356.58 L117.5 357.22 L118 357.87 L118.5 358.55 L119 359.24 L119.5 359.95 L120 360.66 L120.5 361.39 L121 362.12 L121.5 363.02 L122 364.04 L122.5 365.05 L123 366.06 L123.5 367 L124 367.83 L124.5 368.65 L125 369.47 L125.5 370.27 L126 371.07 L126.5 371.85 L127 372.63 L127.5 373.39 L128 374.14 L128.5 374.88 L129 375.6 L129.5 376.3 L130 376.99 L130.5 377.67 L131 378.33 L131.5 378.89 L132 379.42 L132.5 379.94 L133 380.44 L133.5 380.92 L134 381.38 L134.5 381.84 L135 382.27 L135.5 382.78 L136 383.27 L136.5 383.76 L137 384.22 L137.5 384.67 L138 385.11 L138.5 385.54 L139 385.94 L139.5 386.25 L140 386.54 L140.5 386.83 L141 387.11 L141.5 387.37 L142 387.63 L142.5 387.88 L143 388.12 L143.5 388.35 L144 388.58 L144.5 388.79 L145 389.01 L145.5 389.21 L146 389.41 L146.5 389.61 L147 389.79 L147.5 389.97 L148 390.15 L148.5 390.32 L149 390.49 L149.5 390.66 L150 390.82 L150.5 390.98 L151 391.14 L151.5 391.29 L152 391.44 L152.5 391.59 L153 391.74 L153.5 391.89 L154 392.03 L154.5 392.18 L155 392.32 L155.5 392.46 L156 392.6 L156.5 392.74 L157 392.87 L157.5 393.01 L158 393.15 L158.5 393.28 L159 393.41 L159.5 393.55 L160 393.68 L160.5 393.73 L161 393.78 L161.5 393.83 L162 393.88 L162.5 393.93 L163 393.97 L163.5 394.02 L164 394.07 L164.5 394.12 L165 394.16 L165.5 394.21 L166 394.26 L166.5 394.3 L167 394.35 L167.5 394.39 L168 394.44 L168.5 394.48 L169 394.53 L169.5 394.57 L170 394.62 L170.5 394.66 L171 394.71 L171.5 394.75 L172 394.79 L172.5 394.84 L173 394.88 L173.5 394.92 L174 394.97 L174.5 395.01 L175 395.05 L175.5 395.1 L176 395.14 L176.5 395.17 L177 395.21 L177.5 395.24 L178 395.27 L178.5 395.3 L179 395.34 L179.5 395.37 L180 395.4 L180.5 395.43 L181 395.47 L181.5 395.5 L182 395.53 L182.5 395.56 L183 395.59 L183.5 395.63 L184 395.66 L184.5 395.69 L185 395.72 L185.5 395.75 L186 395.78 L186.5 395.82 L187 395.85 L187.5 395.88 L188 395.91 L188.5 395.94 L189 395.97" fill="none" stroke="#5b32c4" stroke-width="1.3" stroke-linejoin="round" stroke-linecap="butt" stroke-dasharray="3 2.5"/>
<path d="M92.5 374.41 L93 374.45 L93.5 374.48 L94 374.52 L94.5 374.56 L95 374.59 L95.5 374.7 L96 374.8 L96.5 374.91 L97 375.01 L97.5 375.12 L98 375.23 L98.5 375.33 L99 375.43 L99.5 375.54 L100 375.64 L100.5 375.74 L101 375.84 L101.5 375.93 L102 376.03 L102.5 376.12 L103 376.21 L103.5 376.3 L104 376.39 L104.5 376.47 L105 376.55 L105.5 376.62 L106 376.67 L106.5 376.72 L107 376.75 L107.5 376.76 L108 376.75 L108.5 376.7 L109 376.62 L109.5 376.49 L110 376.37 L110.5 376.18 L111 375.91 L111.5 375.56 L112 375.11 L112.5 374.56 L113 373.88 L113.5 373.08 L114 372.15 L114.5 371.09 L115 369.9 L115.5 368.57 L116 367.1 L116.5 365.53 L117 363.87 L117.5 362.17 L118 360.44 L118.5 358.73 L119 357.07 L119.5 355.51 L120 354.09 L120.5 352.86 L121 351.84 L121.5 351.25 L122 351.06 L122.5 351.18 L123 351.58 L123.5 352.07 L124 352.59 L124.5 353.25 L125 354.03 L125.5 354.94 L126 355.95 L126.5 357.07 L127 358.27 L127.5 359.55 L128 360.89 L128.5 362.27 L129 363.7 L129.5 365.15 L130 366.61 L130.5 368.07 L131 369.53 L131.5 370.88 L132 372.19 L132.5 373.47 L133 374.7 L133.5 375.89 L134 377.02 L134.5 378.1 L135 379.12 L135.5 380.18 L136 381.17 L136.5 382.11 L137 382.98 L137.5 383.8 L138 384.57 L138.5 385.28 L139 385.92 L139.5 386.44 L140 386.92 L140.5 387.36 L141 387.76 L141.5 388.13 L142 388.47 L142.5 388.78 L143 389.06 L143.5 389.33 L144 389.57 L144.5 389.8 L145 390.01 L145.5 390.21 L146 390.4 L146.5 390.58 L147 390.75 L147.5 390.91 L148 391.06 L148.5 391.21 L149 391.36 L149.5 391.5 L150 391.64 L150.5 391.77 L151 391.9 L151.5 392.04 L152 392.17 L152.5 392.3 L153 392.42 L153.5 392.55 L154 392.68 L154.5 392.8 L155 392.93 L155.5 393.05 L156 393.18 L156.5 393.3 L157 393.43 L157.5 393.55 L158 393.67 L158.5 393.8 L159 393.92 L159.5 394.04 L160 394.17 L160.5 394.21 L161 394.25 L161.5 394.29 L162 394.33 L162.5 394.37 L163 394.41 L163.5 394.45 L164 394.49 L164.5 394.53 L165 394.57 L165.5 394.61 L166 394.65 L166.5 394.69 L167 394.73 L167.5 394.77 L168 394.81 L168.5 394.85" fill="none" stroke="#dd95e6" stroke-width="1.3" stroke-linejoin="round" stroke-linecap="butt" stroke-dasharray="3 2.5"/>
<path d="M40.5 372.13 L41 372.26 L41.5 372.39 L42 372.53 L42.5 372.66 L43 372.8 L43.5 372.93 L44 373.06 L44.5 373.09 L45 373.11 L45.5 373.14 L46 373.16 L46.5 373.19 L47 373.21 L47.5 373.24 L48 373.26 L48.5 373.29 L49 373.31 L49.5 373.33 L50 373.36 L50.5 373.38 L51 373.4 L51.5 373.37 L52 373.29 L52.5 373.21 L53 373.13 L53.5 373.05 L54 372.97 L54.5 372.89 L55 372.81 L55.5 372.73 L56 372.65 L56.5 372.57 L57 372.57 L57.5 372.59 L58 372.6 L58.5 372.62 L59 372.64 L59.5 372.65 L60 372.67 L60.5 372.68 L61 372.69 L61.5 372.7 L62 372.71 L62.5 372.71 L63 372.71 L63.5 372.71 L64 372.69 L64.5 372.64 L65 372.57 L65.5 372.5 L66 372.43 L66.5 372.34 L67 372.24 L67.5 372.14 L68 372.02 L68.5 371.88 L69 371.73 L69.5 371.56 L70 371.37 L70.5 371.21 L71 371.03 L71.5 370.82 L72 370.59 L72.5 370.32 L73 370.01 L73.5 369.67 L74 369.29 L74.5 368.87 L75 368.41 L75.5 367.9 L76 367.35 L76.5 366.74 L77 366.09 L77.5 365.38 L78 364.63 L78.5 363.83 L79 362.98 L79.5 362.08 L80 361.14 L80.5 360.15 L81 359.11 L81.5 358.04 L82 356.95 L82.5 355.83 L83 354.7 L83.5 353.56 L84 352.42 L84.5 351.28 L85 350.17 L85.5 349.07 L86 348.02 L86.5 347.01 L87 346.05 L87.5 345.16 L88 344.35 L88.5 343.61 L89 342.97 L89.5 342.43 L90 342 L90.5 341.69 L91 341.5 L91.5 341.43 L92 341.48 L92.5 341.63 L93 341.87 L93.5 342.21 L94 342.64 L94.5 343.17 L95 343.77 L95.5 344.52 L96 345.34 L96.5 346.23 L97 347.18 L97.5 348.17 L98 349.22 L98.5 350.29 L99 351.4 L99.5 352.53 L100 353.68 L100.5 354.83 L101 355.99 L101.5 357.14 L102 358.29 L102.5 359.42 L103 360.53 L103.5 361.63 L104 362.69 L104.5 363.73 L105 364.73 L105.5 365.7 L106 366.63 L106.5 367.53 L107 368.38 L107.5 369.19 L108 369.97 L108.5 370.7 L109 371.4 L109.5 372.05 L110 372.73 L110.5 373.37 L111 373.97 L111.5 374.54 L112 375.08 L112.5 375.59 L113 376.06 L113.5 376.51 L114 376.93 L114.5 377.33 L115 377.71 L115.5 378.06 L116 378.36 L116.5 378.64 L117 378.91 L117.5 379.16 L118 379.4 L118.5 379.63 L119 379.84 L119.5 380.05 L120 380.25 L120.5 380.44 L121 380.62 L121.5 380.96 L122 381.41 L122.5 381.85 L123 382.29 L123.5 382.65 L124 382.9 L124.5 383.14 L125 383.39 L125.5 383.63 L126 383.87 L126.5 384.11 L127 384.34 L127.5 384.58 L128 384.82 L128.5 385.05 L129 385.28 L129.5 385.52 L130 385.75 L130.5 385.98 L131 386.21 L131.5 386.36 L132 386.5 L132.5 386.63 L133 386.77 L133.5 386.9 L134 387.03 L134.5 387.17 L135 387.3 L135.5 387.52 L136 387.74 L136.5 387.97 L137 388.19 L137.5 388.41 L138 388.63 L138.5 388.85 L139 389.06 L139.5 389.18 L140 389.31 L140.5 389.44 L141 389.56 L141.5 389.69 L142 389.81 L142.5 389.94 L143 390.07 L143.5 390.19 L144 390.32 L144.5 390.44 L145 390.57 L145.5 390.7 L146 390.82 L146.5 390.95 L147 391.07 L147.5 391.19 L148 391.31 L148.5 391.43" fill="none" stroke="#a535d5" stroke-width="1.3" stroke-linejoin="round" stroke-linecap="butt" stroke-dasharray="3 2.5"/>
<path d="M91.5 373.9 L92 373.93 L92.5 373.96 L93 373.99 L93.5 374.02 L94 374.05 L94.5 374.08 L95 374.1 L95.5 374.2 L96 374.3 L96.5 374.4 L97 374.49 L97.5 374.59 L98 374.68 L98.5 374.78 L99 374.87 L99.5 374.97 L100 375.06 L100.5 375.15 L101 375.24 L101.5 375.32 L102 375.41 L102.5 375.5 L103 375.58 L103.5 375.67 L104 375.75 L104.5 375.83 L105 375.91 L105.5 375.99 L106 376.07 L106.5 376.15 L107 376.23 L107.5 376.31 L108 376.38 L108.5 376.45 L109 376.53 L109.5 376.6 L110 376.73 L110.5 376.85 L111 376.98 L111.5 377.1 L112 377.22 L112.5 377.33 L113 377.44 L113.5 377.55 L114 377.65 L114.5 377.75 L115 377.84 L115.5 377.92 L116 377.96 L116.5 377.99 L117 378.01 L117.5 378.01 L118 378.01 L118.5 377.99 L119 377.95 L119.5 377.89 L120 377.82 L120.5 377.72 L121 377.6 L121.5 377.61 L122 377.7 L122.5 377.76 L123 377.78 L123.5 377.7 L124 377.46 L124.5 377.18 L125 376.86 L125.5 376.48 L126 376.06 L126.5 375.58 L127 375.04 L127.5 374.45 L128 373.8 L128.5 373.09 L129 372.32 L129.5 371.49 L130 370.6 L130.5 369.66 L131 368.66 L131.5 367.53 L132 366.33 L132.5 365.1 L133 363.82 L133.5 362.52 L134 361.19 L134.5 359.85 L135 358.5 L135.5 357.25 L136 356.02 L136.5 354.82 L137 353.66 L137.5 352.56 L138 351.54 L138.5 350.61 L139 349.76 L139.5 348.97 L140 348.31 L140.5 347.8 L141 347.45 L141.5 347.27 L142 347.27 L142.5 347.44 L143 347.78 L143.5 348.29 L144 348.95 L144.5 349.76 L145 350.7 L145.5 351.77 L146 352.95 L146.5 354.22 L147 355.57 L147.5 356.98 L148 358.44 L148.5 359.95 L149 361.48 L149.5 363.02 L150 364.57 L150.5 366.12 L151 367.65 L151.5 369.16 L152 370.64 L152.5 372.08 L153 373.49 L153.5 374.85 L154 376.16 L154.5 377.42 L155 378.63 L155.5 379.78 L156 380.88 L156.5 381.92 L157 382.9 L157.5 383.83 L158 384.71 L158.5 385.53 L159 386.3 L159.5 387.02 L160 387.69 L160.5 388.24 L161 388.75 L161.5 389.21 L162 389.64 L162.5 390.03 L163 390.39 L163.5 390.72 L164 391.03 L164.5 391.3 L165 391.56 L165.5 391.79 L166 392.01 L166.5 392.21 L167 392.39 L167.5 392.56 L168 392.72 L168.5 392.86 L169 393 L169.5 393.13 L170 393.25 L170.5 393.36 L171 393.47 L171.5 393.57 L172 393.67 L172.5 393.76 L173 393.85 L173.5 393.93 L174 394.01 L174.5 394.09 L175 394.17 L175.5 394.24 L176 394.32 L176.5 394.38 L177 394.44 L177.5 394.5 L178 394.55 L178.5 394.61 L179 394.66 L179.5 394.72 L180 394.77 L180.5 394.82 L181 394.87 L181.5 394.92 L182 394.97 L182.5 395.02 L183 395.06 L183.5 395.11 L184 395.16 L184.5 395.2 L185 395.25 L185.5 395.29 L186 395.34 L186.5 395.38 L187 395.42 L187.5 395.47 L188 395.51 L188.5 395.55 L189 395.59 L189.5 395.63 L190 395.67" fill="none" stroke="#5b32c4" stroke-width="1.3" stroke-linejoin="round" stroke-linecap="round"/>
<path d="M116.5 379.13 L117 379.24 L117.5 379.34 L118 379.45 L118.5 379.55 L119 379.65 L119.5 379.75 L120 379.85 L120.5 379.95 L121 380.04 L121.5 380.3 L122 380.67 L122.5 381.03 L123 381.39 L123.5 381.68 L124 381.86 L124.5 382.03 L125 382.2 L125.5 382.37 L126 382.54 L126.5 382.7 L127 382.86 L127.5 383.02 L128 383.17 L128.5 383.32 L129 383.46 L129.5 383.6 L130 383.73 L130.5 383.85 L131 383.97 L131.5 384 L132 384 L132.5 383.99 L133 383.96 L133.5 383.92 L134 383.86 L134.5 383.78 L135 383.67 L135.5 383.63 L136 383.55 L136.5 383.43 L137 383.28 L137.5 383.07 L138 382.81 L138.5 382.49 L139 382.08 L139.5 381.52 L140 380.87 L140.5 380.13 L141 379.3 L141.5 378.36 L142 377.32 L142.5 376.15 L143 374.87 L143.5 373.47 L144 371.94 L144.5 370.3 L145 368.54 L145.5 366.68 L146 364.72 L146.5 362.68 L147 360.57 L147.5 358.43 L148 356.27 L148.5 354.15 L149 352.1 L149.5 350.18 L150 348.43 L150.5 346.91 L151 345.69 L151.5 344.8 L152 344.3 L152.5 344.21 L153 344.51 L153.5 345.18 L154 346.19 L154.5 347.51 L155 349.1 L155.5 350.91 L156 352.89 L156.5 355 L157 357.2 L157.5 359.44 L158 361.69 L158.5 363.93 L159 366.13 L159.5 368.27 L160 370.34 L160.5 372.24 L161 374.05 L161.5 375.75 L162 377.35 L162.5 378.84 L163 380.22 L163.5 381.5 L164 382.68 L164.5 383.76 L165 384.74 L165.5 385.63 L166 386.44 L166.5 387.17 L167 387.84 L167.5 388.43 L168 388.97 L168.5 389.45 L169 389.88 L169.5 390.27 L170 390.63 L170.5 390.95 L171 391.24 L171.5 391.5 L172 391.74 L172.5 391.96 L173 392.17 L173.5 392.36 L174 392.54 L174.5 392.7 L175 392.85 L175.5 393 L176 393.14 L176.5 393.26 L177 393.38 L177.5 393.49 L178 393.59 L178.5 393.69 L179 393.79 L179.5 393.88 L180 393.97 L180.5 394.06 L181 394.14 L181.5 394.22 L182 394.3 L182.5 394.38 L183 394.45 L183.5 394.52 L184 394.59 L184.5 394.66 L185 394.73 L185.5 394.79 L186 394.85 L186.5 394.91 L187 394.97 L187.5 395.03 L188 395.09 L188.5 395.15 L189 395.2 L189.5 395.26 L190 395.31" fill="none" stroke="#dd95e6" stroke-width="1.3" stroke-linejoin="round" stroke-linecap="round"/>
<path d="M77 372.79 L77.5 372.82 L78 372.84 L78.5 372.86 L79 372.88 L79.5 372.9 L80 372.92 L80.5 372.93 L81 372.93 L81.5 372.93 L82 372.93 L82.5 372.93 L83 372.93 L83.5 372.93 L84 372.93 L84.5 372.93 L85 372.93 L85.5 372.92 L86 372.91 L86.5 372.91 L87 372.9 L87.5 372.89 L88 372.88 L88.5 372.86 L89 372.85 L89.5 372.83 L90 372.81 L90.5 372.81 L91 372.8 L91.5 372.79 L92 372.77 L92.5 372.76 L93 372.74 L93.5 372.71 L94 372.69 L94.5 372.65 L95 372.62 L95.5 372.64 L96 372.67 L96.5 372.68 L97 372.68 L97.5 372.68 L98 372.66 L98.5 372.64 L99 372.6 L99.5 372.54 L100 372.46 L100.5 372.36 L101 372.24 L101.5 372.09 L102 371.92 L102.5 371.71 L103 371.46 L103.5 371.18 L104 370.85 L104.5 370.47 L105 370.05 L105.5 369.56 L106 369.02 L106.5 368.41 L107 367.73 L107.5 366.97 L108 366.14 L108.5 365.24 L109 364.24 L109.5 363.17 L110 362.07 L110.5 360.89 L111 359.62 L111.5 358.28 L112 356.85 L112.5 355.36 L113 353.79 L113.5 352.18 L114 350.51 L114.5 348.81 L115 347.09 L115.5 345.37 L116 343.63 L116.5 341.93 L117 340.29 L117.5 338.74 L118 337.3 L118.5 336.01 L119 334.9 L119.5 333.98 L120 333.3 L120.5 332.87 L121 332.7 L121.5 332.96 L122 333.53 L122.5 334.28 L123 335.2 L123.5 336.22 L124 337.28 L124.5 338.48 L125 339.81 L125.5 341.24 L126 342.77 L126.5 344.37 L127 346.04 L127.5 347.74 L128 349.49 L128.5 351.25 L129 353.02 L129.5 354.79 L130 356.54 L130.5 358.28 L131 359.99 L131.5 361.59 L132 363.13 L132.5 364.63 L133 366.08 L133.5 367.48 L134 368.83 L134.5 370.13 L135 371.37 L135.5 372.64 L136 373.85 L136.5 375.01 L137 376.11 L137.5 377.16 L138 378.16 L138.5 379.1 L139 379.97 L139.5 380.72 L140 381.43 L140.5 382.09 L141 382.7 L141.5 383.29 L142 383.83 L142.5 384.34 L143 384.82 L143.5 385.26 L144 385.69 L144.5 386.08 L145 386.45 L145.5 386.81 L146 387.14 L146.5 387.45 L147 387.75 L147.5 388.03 L148 388.3 L148.5 388.55 L149 388.8 L149.5 389.04 L150 389.26 L150.5 389.48 L151 389.69 L151.5 389.9 L152 390.1 L152.5 390.3 L153 390.49 L153.5 390.67 L154 390.85 L154.5 391.03 L155 391.21 L155.5 391.38 L156 391.55 L156.5 391.72 L157 391.89 L157.5 392.05 L158 392.21 L158.5 392.37 L159 392.53 L159.5 392.69 L160 392.84 L160.5 392.92 L161 392.99 L161.5 393.06 L162 393.13 L162.5 393.19 L163 393.26 L163.5 393.33 L164 393.39 L164.5 393.46 L165 393.52 L165.5 393.58 L166 393.64 L166.5 393.7 L167 393.76 L167.5 393.82 L168 393.88 L168.5 393.94 L169 394 L169.5 394.05 L170 394.11 L170.5 394.16 L171 394.22 L171.5 394.27 L172 394.33 L172.5 394.38 L173 394.44 L173.5 394.49 L174 394.54 L174.5 394.59 L175 394.64 L175.5 394.7" fill="none" stroke="#a535d5" stroke-width="1.3" stroke-linejoin="round" stroke-linecap="round"/>
<path d="M25 367.2 C25.58 366.98 27.15 365.83 28.5 365.9 C29.85 365.97 31.43 366.63 33.1 367.6 C34.77 368.57 36.68 370.77 38.5 371.7 C40.32 372.63 41.88 372.88 44 373.2 C46.12 373.52 49.1 373.7 51.2 373.6 C53.3 373.5 54.48 372.67 56.6 372.6 C58.72 372.53 62.23 373.32 63.9 373.2 C65.57 373.08 65.55 372.03 66.6 371.9 C67.65 371.77 69.13 372.88 70.2 372.4 C71.27 371.92 72.13 369.95 73 369 C73.87 368.05 74.65 367.28 75.4 366.7 C76.15 366.12 76.58 366.7 77.5 365.5 C78.42 364.3 79.9 361.42 80.9 359.5 C81.9 357.58 82.6 356.08 83.5 354 C84.4 351.92 85.47 349 86.3 347 C87.13 345 87.8 343.33 88.5 342 C89.2 340.67 89.65 340 90.5 339 C91.35 338 92.43 336.75 93.6 336 C94.77 335.25 96 335 97.5 334.5 C99 334 101.18 333.75 102.6 333 C104.02 332.25 104.93 331.33 106 330 C107.07 328.67 108.08 326.83 109 325 C109.92 323.17 110.5 321.83 111.5 319 C112.5 316.17 113.83 312 115 308 C116.17 304 117.58 298.5 118.5 295 C119.42 291.5 119.92 288.83 120.5 287 C121.08 285.17 121.5 284.17 122 284 C122.5 283.83 122.73 283.62 123.5 286 C124.27 288.38 125.68 294.3 126.6 298.3 C127.52 302.3 128.22 306.12 129 310 C129.78 313.88 130.47 318.35 131.3 321.6 C132.13 324.85 133.22 327.52 134 329.5 C134.78 331.48 135.25 332.5 136 333.5 C136.75 334.5 137.67 335.33 138.5 335.5 C139.33 335.67 140.08 335.25 141 334.5 C141.92 333.75 142.92 332.5 144 331 C145.08 329.5 146.33 326.95 147.5 325.5 C148.67 324.05 150 322.47 151 322.3 C152 322.13 152.75 323.22 153.5 324.5 C154.25 325.78 154.92 327.75 155.5 330 C156.08 332.25 156.53 335.17 157 338 C157.47 340.83 157.65 342.63 158.3 347 C158.95 351.37 160.03 359.05 160.9 364.2 C161.77 369.35 162.65 374.52 163.5 377.9 C164.35 381.28 165 383.22 166 384.5 C167 385.78 168.35 385.7 169.5 385.6 C170.65 385.5 171.62 384.47 172.9 383.9 C174.18 383.33 175.78 382.2 177.2 382.2 C178.62 382.2 179.83 382.77 181.4 383.9 C182.97 385.03 185.12 387.35 186.6 389 C188.08 390.65 189.68 393 190.3 393.8" fill="none" stroke="#2a2a2a" stroke-width="1.4" stroke-linejoin="round" stroke-linecap="round"/>
<path d="M25 367.2 C25.58 366.98 27.15 365.83 28.5 365.9 C29.85 365.97 31.43 366.63 33.1 367.6 C34.77 368.57 36.68 370.77 38.5 371.7 C40.32 372.63 41.88 372.88 44 373.2 C46.12 373.52 49.1 373.7 51.2 373.6 C53.3 373.5 54.48 372.67 56.6 372.6 C58.72 372.53 62.23 373.32 63.9 373.2 C65.57 373.08 65.55 372.03 66.6 371.9 C67.65 371.77 69.13 372.88 70.2 372.4 C71.27 371.92 72.13 369.95 73 369 C73.87 368.05 74.65 367.28 75.4 366.7 C76.15 366.12 76.58 366.7 77.5 365.5 C78.42 364.3 79.9 361.42 80.9 359.5 C81.9 357.58 82.6 356.08 83.5 354 C84.4 351.92 85.47 349 86.3 347 C87.13 345 87.8 343.33 88.5 342 C89.2 340.67 89.65 340 90.5 339 C91.35 338 92.43 336.75 93.6 336 C94.77 335.25 96 335 97.5 334.5 C99 334 101.18 333.75 102.6 333 C104.02 332.25 104.93 331.33 106 330 C107.07 328.67 108.08 326.83 109 325 C109.92 323.17 110.5 321.83 111.5 319 C112.5 316.17 113.83 312 115 308 C116.17 304 117.58 298.5 118.5 295 C119.42 291.5 119.92 288.83 120.5 287 C121.08 285.17 121.5 284.17 122 284 C122.5 283.83 122.73 283.62 123.5 286 C124.27 288.38 125.68 294.3 126.6 298.3 C127.52 302.3 128.22 306.12 129 310 C129.78 313.88 130.47 318.35 131.3 321.6 C132.13 324.85 133.22 327.52 134 329.5 C134.78 331.48 135.25 332.5 136 333.5 C136.75 334.5 137.67 335.33 138.5 335.5 C139.33 335.67 140.08 335.25 141 334.5 C141.92 333.75 142.92 332.5 144 331 C145.08 329.5 146.33 326.95 147.5 325.5 C148.67 324.05 150 322.47 151 322.3 C152 322.13 152.75 323.22 153.5 324.5 C154.25 325.78 154.92 327.75 155.5 330 C156.08 332.25 156.53 335.17 157 338 C157.47 340.83 157.65 342.63 158.3 347 C158.95 351.37 160.03 359.05 160.9 364.2 C161.77 369.35 162.65 374.52 163.5 377.9 C164.35 381.28 165 383.22 166 384.5 C167 385.78 168.35 385.7 169.5 385.6 C170.65 385.5 171.62 384.47 172.9 383.9 C174.18 383.33 175.78 382.2 177.2 382.2 C178.62 382.2 179.83 382.77 181.4 383.9 C182.97 385.03 185.12 387.35 186.6 389 C188.08 390.65 189.68 393 190.3 393.8" fill="none" stroke="#c040e0" stroke-width="1.4" stroke-linejoin="round" stroke-linecap="butt" stroke-dasharray="0.8 3.4"/>
<path d="M164.5 392.6 L165 392.35 L165.5 392.08 L166 391.76 L166.5 391.42 L167 391.03 L167.5 390.62 L168 390.16 L168.5 389.67 L169 389.16 L169.5 388.61 L170 388.05 L170.5 387.46 L171 386.87 L171.5 386.27 L172 385.67 L172.5 385.1 L173 384.54 L173.5 384.02 L174 383.54 L174.5 383.12 L175 382.77 L175.5 382.49 L176 382.29 L176.5 382.18 L177 382.16 L177.5 382.21 L178 382.32 L178.5 382.49 L179 382.71 L179.5 382.97 L180 383.28 L180.5 383.63 L181 384.02 L181.5 384.44 L182 384.89 L182.5 385.36 L183 385.85 L183.5 386.34 L184 386.85 L184.5 387.37 L185 387.88 L185.5 388.39 L186 388.89 L186.5 389.39 L187 389.87 L187.5 390.34 L188 390.79 L188.5 391.23 L189 391.65 L189.5 392.05 L190 392.42" fill="none" stroke="#55e040" stroke-width="1.3" stroke-linejoin="round" stroke-linecap="round"/>
<text x="30" y="285.6" font-size="13" fill="#1a1a1a" font-style="italic" stroke="#1a1a1a" stroke-width="0.2">d)</text>
<line x1="30.1" y1="296.8" x2="40.8" y2="296.8" stroke="#dd95e6" stroke-width="1.3"/>
<text x="44.6" y="300.4" font-size="9.4" fill="#dd95e6" textLength="50.8" lengthAdjust="spacingAndGlyphs">Mo 3d (Mo<tspan font-size="6" dy="-3.6">IV</tspan><tspan dy="3.6">)</tspan></text>
<line x1="30.1" y1="309.6" x2="40.8" y2="309.6" stroke="#5b32c4" stroke-width="1.3"/>
<text x="44.6" y="312.9" font-size="9.4" fill="#5b32c4" textLength="50.8" lengthAdjust="spacingAndGlyphs">Mo 3d (Mo<tspan font-size="6" dy="-3.6">V</tspan><tspan dy="3.6">)</tspan></text>
<line x1="30.1" y1="322.2" x2="40.8" y2="322.2" stroke="#a535d5" stroke-width="1.3"/>
<text x="44.6" y="325.5" font-size="9.4" fill="#a535d5" textLength="57.6" lengthAdjust="spacingAndGlyphs">Mo 3d (MoO<tspan font-size="6" dy="2">3</tspan><tspan dy="-2">)</tspan></text>
<line x1="30.1" y1="334.9" x2="40.8" y2="334.9" stroke="#55e040" stroke-width="1.3"/>
<text x="44.6" y="338.1" font-size="9.4" fill="#55e040" textLength="16.2" lengthAdjust="spacingAndGlyphs">S 2s</text>
<rect x="207.5" y="271.8" width="165.8" height="134.1" fill="none" stroke="#333333" stroke-width="1.35" stroke-linejoin="round"/>
<line x1="207.5" y1="271.8" x2="207.5" y2="276.3" stroke="#333333" stroke-width="1.1"/>
<line x1="207.5" y1="405.9" x2="207.5" y2="401.4" stroke="#333333" stroke-width="1.1"/>
<line x1="240.66" y1="271.8" x2="240.66" y2="276.3" stroke="#333333" stroke-width="1.1"/>
<line x1="240.66" y1="405.9" x2="240.66" y2="401.4" stroke="#333333" stroke-width="1.1"/>
<line x1="273.82" y1="271.8" x2="273.82" y2="276.3" stroke="#333333" stroke-width="1.1"/>
<line x1="273.82" y1="405.9" x2="273.82" y2="401.4" stroke="#333333" stroke-width="1.1"/>
<line x1="306.98" y1="271.8" x2="306.98" y2="276.3" stroke="#333333" stroke-width="1.1"/>
<line x1="306.98" y1="405.9" x2="306.98" y2="401.4" stroke="#333333" stroke-width="1.1"/>
<line x1="340.14" y1="271.8" x2="340.14" y2="276.3" stroke="#333333" stroke-width="1.1"/>
<line x1="340.14" y1="405.9" x2="340.14" y2="401.4" stroke="#333333" stroke-width="1.1"/>
<line x1="373.3" y1="271.8" x2="373.3" y2="276.3" stroke="#333333" stroke-width="1.1"/>
<line x1="373.3" y1="405.9" x2="373.3" y2="401.4" stroke="#333333" stroke-width="1.1"/>
<text x="210.8" y="418.8" font-size="12.6" fill="#1a1a1a" text-anchor="middle" stroke="#1a1a1a" stroke-width="0.22">168</text>
<text x="243.1" y="418.8" font-size="12.6" fill="#1a1a1a" text-anchor="middle" stroke="#1a1a1a" stroke-width="0.22">166</text>
<text x="276.1" y="418.8" font-size="12.6" fill="#1a1a1a" text-anchor="middle" stroke="#1a1a1a" stroke-width="0.22">164</text>
<text x="309.4" y="418.8" font-size="12.6" fill="#1a1a1a" text-anchor="middle" stroke="#1a1a1a" stroke-width="0.22">162</text>
<text x="342.2" y="418.8" font-size="12.6" fill="#1a1a1a" text-anchor="middle" stroke="#1a1a1a" stroke-width="0.22">160</text>
<text x="375" y="418.8" font-size="12.6" fill="#1a1a1a" text-anchor="middle" stroke="#1a1a1a" stroke-width="0.22">158</text>
<path d="M252 385.56 L348 390.11" fill="none" stroke="#8a9aa0" stroke-width="1.2" stroke-linejoin="round" stroke-linecap="round"/>
<path d="M285 383.97 L285.5 383.89 L286 383.8 L286.5 383.71 L287 383.61 L287.5 383.5 L288 383.38 L288.5 383.24 L289 383.1 L289.5 382.94 L290 382.76 L290.5 382.57 L291 382.35 L291.5 382.11 L292 381.85 L292.5 381.56 L293 381.23 L293.5 380.87 L294 380.47 L294.5 380.02 L295 379.53 L295.5 378.98 L296 378.38 L296.5 377.72 L297 376.98 L297.5 376.18 L298 375.29 L298.5 374.32 L299 373.26 L299.5 372.11 L300 370.85 L300.5 369.49 L301 368.02 L301.5 366.44 L302 364.75 L302.5 362.93 L303 361 L303.5 358.94 L304 356.76 L304.5 354.47 L305 352.06 L305.5 349.54 L306 346.91 L306.5 344.19 L307 341.38 L307.5 338.49 L308 335.53 L308.5 332.53 L309 329.49 L309.5 326.44 L310 323.39 L310.5 320.38 L311 317.42 L311.5 314.54 L312 311.78 L312.5 309.17 L313 306.73 L313.5 304.5 L314 302.52 L314.5 300.81 L315 299.41 L315.5 298.34 L316 297.62 L316.5 297.26 L317 297.27 L317.5 297.56 L318 298.12 L318.5 298.95 L319 300.03 L319.5 301.34 L320 302.88 L320.5 304.61 L321 306.53 L321.5 308.61 L322 310.83 L322.5 313.17 L323 315.61 L323.5 318.13 L324 320.71 L324.5 323.34 L325 325.99 L325.5 328.65 L326 331.31 L326.5 333.95 L327 336.57 L327.5 339.15 L328 341.68 L328.5 344.16 L329 346.58 L329.5 348.93 L330 351.2 L330.5 353.39 L331 355.51 L331.5 357.54 L332 359.48 L332.5 361.33 L333 363.1 L333.5 364.77 L334 366.36 L334.5 367.86 L335 369.28 L335.5 370.61 L336 371.86 L336.5 373.03 L337 374.13 L337.5 375.15 L338 376.1 L338.5 376.99 L339 377.82 L339.5 378.58 L340 379.29 L340.5 379.95 L341 380.55" fill="none" stroke="#38c838" stroke-width="1.3" stroke-linejoin="round" stroke-linecap="round"/>
<path d="M267.5 384.41 L268 384.38 L268.5 384.34 L269 384.29 L269.5 384.24 L270 384.19 L270.5 384.13 L271 384.06 L271.5 383.99 L272 383.91 L272.5 383.82 L273 383.72 L273.5 383.61 L274 383.49 L274.5 383.35 L275 383.2 L275.5 383.03 L276 382.85 L276.5 382.64 L277 382.42 L277.5 382.16 L278 381.89 L278.5 381.58 L279 381.24 L279.5 380.87 L280 380.47 L280.5 380.02 L281 379.53 L281.5 379 L282 378.43 L282.5 377.8 L283 377.13 L283.5 376.4 L284 375.62 L284.5 374.78 L285 373.88 L285.5 372.93 L286 371.92 L286.5 370.85 L287 369.72 L287.5 368.54 L288 367.3 L288.5 366.01 L289 364.68 L289.5 363.3 L290 361.88 L290.5 360.43 L291 358.95 L291.5 357.46 L292 355.96 L292.5 354.46 L293 352.98 L293.5 351.52 L294 350.1 L294.5 348.74 L295 347.45 L295.5 346.25 L296 345.16 L296.5 344.19 L297 343.36 L297.5 342.68 L298 342.18 L298.5 341.85 L299 341.7 L299.5 341.75 L300 342.02 L300.5 342.52 L301 343.22 L301.5 344.11 L302 345.19 L302.5 346.41 L303 347.77 L303.5 349.23 L304 350.78 L304.5 352.4 L305 354.06 L305.5 355.75 L306 357.44 L306.5 359.14 L307 360.82 L307.5 362.46 L308 364.08 L308.5 365.64 L309 367.15 L309.5 368.61 L310 370 L310.5 371.33 L311 372.58 L311.5 373.77 L312 374.89 L312.5 375.94 L313 376.92 L313.5 377.83 L314 378.68 L314.5 379.46 L315 380.18 L315.5 380.84 L316 381.45 L316.5 382.01 L317 382.52 L317.5 382.99 L318 383.42 L318.5 383.8 L319 384.16 L319.5 384.48 L320 384.77 L320.5 385.04 L321 385.28 L321.5 385.51 L322 385.71 L322.5 385.9 L323 386.07 L323.5 386.23 L324 386.38 L324.5 386.52 L325 386.65 L325.5 386.77 L326 386.88 L326.5 386.98 L327 387.08 L327.5 387.18 L328 387.27" fill="none" stroke="#38c838" stroke-width="1.3" stroke-linejoin="round" stroke-linecap="butt" stroke-dasharray="3 2.5"/>
<path d="M250 385.06 L250.5 385.07 L251 385.08 L251.5 385.09 L252 385.1 L252.5 385.1 L253 385.11 L253.5 385.11 L254 385.11 L254.5 385.11 L255 385.11 L255.5 385.11 L256 385.1 L256.5 385.09 L257 385.08 L257.5 385.06 L258 385.04 L258.5 385.02 L259 385 L259.5 384.97 L260 384.93 L260.5 384.89 L261 384.84 L261.5 384.79 L262 384.74 L262.5 384.67 L263 384.6 L263.5 384.52 L264 384.43 L264.5 384.34 L265 384.24 L265.5 384.12 L266 384 L266.5 383.87 L267 383.72 L267.5 383.57 L268 383.4 L268.5 383.22 L269 383.03 L269.5 382.83 L270 382.61 L270.5 382.38 L271 382.14 L271.5 381.88 L272 381.61 L272.5 381.33 L273 381.03 L273.5 380.72 L274 380.4 L274.5 380.06 L275 379.72 L275.5 379.35 L276 378.98 L276.5 378.6 L277 378.2 L277.5 377.8 L278 377.39 L278.5 376.97 L279 376.54 L279.5 376.11 L280 375.68 L280.5 375.24 L281 374.8 L281.5 374.36 L282 373.93 L282.5 373.5 L283 373.07 L283.5 372.65 L284 372.25 L284.5 371.85 L285 371.47 L285.5 371.1 L286 370.75 L286.5 370.42 L287 370.11 L287.5 369.83 L288 369.57 L288.5 369.35 L289 369.15 L289.5 368.98 L290 368.84 L290.5 368.74 L291 368.68 L291.5 368.65 L292 368.65 L292.5 368.7 L293 368.78 L293.5 368.91 L294 369.08 L294.5 369.29 L295 369.53 L295.5 369.81 L296 370.12 L296.5 370.47 L297 370.84 L297.5 371.24 L298 371.66 L298.5 372.11 L299 372.57 L299.5 373.05 L300 373.54 L300.5 374.04 L301 374.55 L301.5 375.06 L302 375.58 L302.5 376.11 L303 376.63 L303.5 377.14 L304 377.66 L304.5 378.17 L305 378.67 L305.5 379.16 L306 379.64 L306.5 380.11 L307 380.57 L307.5 381.02 L308 381.45 L308.5 381.87 L309 382.27 L309.5 382.66 L310 383.03 L310.5 383.39 L311 383.73 L311.5 384.06 L312 384.37 L312.5 384.66 L313 384.94 L313.5 385.21 L314 385.46 L314.5 385.69 L315 385.91 L315.5 386.12 L316 386.32 L316.5 386.5 L317 386.68 L317.5 386.84 L318 386.99 L318.5 387.13 L319 387.27 L319.5 387.39 L320 387.51 L320.5 387.62 L321 387.72 L321.5 387.81 L322 387.9 L322.5 387.99 L323 388.07 L323.5 388.14 L324 388.21 L324.5 388.28 L325 388.34 L325.5 388.4 L326 388.45 L326.5 388.51 L327 388.56 L327.5 388.6 L328 388.65 L328.5 388.69 L329 388.74 L329.5 388.78 L330 388.82 L330.5 388.86 L331 388.89 L331.5 388.93 L332 388.97 L332.5 389 L333 389.04 L333.5 389.07" fill="none" stroke="#55e844" stroke-width="1.3" stroke-linejoin="round" stroke-linecap="round"/>
<path d="M250 384.46 L250.5 384.44 L251 384.41 L251.5 384.38 L252 384.35 L252.5 384.31 L253 384.27 L253.5 384.22 L254 384.16 L254.5 384.11 L255 384.04 L255.5 383.97 L256 383.9 L256.5 383.82 L257 383.73 L257.5 383.63 L258 383.53 L258.5 383.42 L259 383.3 L259.5 383.17 L260 383.04 L260.5 382.9 L261 382.75 L261.5 382.59 L262 382.43 L262.5 382.25 L263 382.07 L263.5 381.88 L264 381.68 L264.5 381.48 L265 381.27 L265.5 381.05 L266 380.83 L266.5 380.6 L267 380.37 L267.5 380.13 L268 379.89 L268.5 379.65 L269 379.4 L269.5 379.16 L270 378.92 L270.5 378.69 L271 378.45 L271.5 378.23 L272 378.01 L272.5 377.81 L273 377.61 L273.5 377.43 L274 377.27 L274.5 377.13 L275 377.01 L275.5 376.91 L276 376.83 L276.5 376.78 L277 376.76 L277.5 376.77 L278 376.8 L278.5 376.88 L279 376.99 L279.5 377.14 L280 377.32 L280.5 377.53 L281 377.77 L281.5 378.04 L282 378.32 L282.5 378.62 L283 378.94 L283.5 379.27 L284 379.6 L284.5 379.94 L285 380.28 L285.5 380.62 L286 380.96 L286.5 381.3 L287 381.63 L287.5 381.95 L288 382.26 L288.5 382.57 L289 382.87 L289.5 383.15 L290 383.43 L290.5 383.69 L291 383.94 L291.5 384.18 L292 384.41 L292.5 384.63 L293 384.84 L293.5 385.04 L294 385.22 L294.5 385.4 L295 385.56 L295.5 385.72 L296 385.86 L296.5 386 L297 386.13 L297.5 386.25 L298 386.36 L298.5 386.46 L299 386.56 L299.5 386.66 L300 386.74 L300.5 386.83 L301 386.9 L301.5 386.98 L302 387.05 L302.5 387.11 L303 387.18 L303.5 387.24 L304 387.29 L304.5 387.35 L305 387.4 L305.5 387.45 L306 387.5 L306.5 387.54 L307 387.59 L307.5 387.63 L308 387.67 L308.5 387.71 L309 387.75 L309.5 387.79 L310 387.83 L310.5 387.87" fill="none" stroke="#55e844" stroke-width="1.3" stroke-linejoin="round" stroke-linecap="butt" stroke-dasharray="3 2.5"/>
<path d="M208.3 389.6 C208.59 389.48 211.28 388.54 211.8 388.2 C212.32 387.86 214 385.86 214.5 385.5 C215 385.14 217.3 383.9 217.8 383.9 C218.3 383.9 219.99 385.34 220.5 385.5 C221.01 385.66 223.32 385.91 223.9 385.8 C224.48 385.69 226.9 384.4 227.5 384.2 C228.1 384 230.56 383.33 231.1 383.4 C231.64 383.47 233.5 384.8 234 385 C234.5 385.2 236.34 385.78 237.1 385.8 C237.86 385.82 242.19 385.3 243.1 385.3 C244.01 385.3 247.29 386 248 385.8 C248.71 385.6 251 382.9 251.6 382.9 C252.2 382.9 254.6 385.76 255.2 385.8 C255.8 385.84 258 383.9 258.8 383.4 C259.6 382.9 263.82 380.43 264.8 379.8 C265.78 379.18 269.63 376.55 270.5 375.9 C271.37 375.25 274.42 373.23 275.2 372 C275.98 370.77 279.18 363.11 279.9 361.1 C280.62 359.09 283.25 349.62 283.8 347.9 C284.35 346.18 286.02 341.57 286.5 340.5 C286.98 339.43 289.04 336.29 289.5 335 C289.96 333.71 291.54 326.86 292 325 C292.46 323.14 294.41 314.63 295 312.7 C295.59 310.77 298.31 303.28 299.1 301.8 C299.89 300.32 303.88 295.86 304.5 295 C305.12 294.14 306.14 292.2 306.5 291.5 C306.86 290.8 308.43 287.2 308.8 286.6 C309.18 286 310.61 284.5 311 284.3 C311.39 284.1 313.08 284.12 313.5 284.2 C313.92 284.28 315.6 284.94 316 285.3 C316.4 285.66 317.93 287.86 318.3 288.5 C318.67 289.14 320.11 292.04 320.4 293 C320.69 293.96 321.55 298.5 321.8 300 C322.05 301.5 323.13 309.42 323.4 311 C323.67 312.58 324.7 317.42 325 319 C325.3 320.58 326.66 328.02 327 330 C327.34 331.98 328.58 339.82 329.1 342.7 C329.62 345.57 332.62 361.98 333.2 364.5 C333.78 367.02 335.57 371.54 336.1 373 C336.63 374.46 338.96 380.73 339.6 382 C340.24 383.27 342.81 387.74 343.8 388.3 C344.79 388.86 350.57 388.47 351.5 388.7 C352.43 388.93 354.12 390.71 355 391.1 C355.88 391.49 360.89 393.56 362 393.4 C363.11 393.24 367.43 389.27 368.3 389.2 C369.18 389.12 372.15 392.23 372.5 392.5" fill="none" stroke="#2a2a2a" stroke-width="1.4" stroke-linejoin="round" stroke-linecap="round"/>
<path d="M208.3 389.6 C208.59 389.48 211.28 388.54 211.8 388.2 C212.32 387.86 214 385.86 214.5 385.5 C215 385.14 217.3 383.9 217.8 383.9 C218.3 383.9 219.99 385.34 220.5 385.5 C221.01 385.66 223.32 385.91 223.9 385.8 C224.48 385.69 226.9 384.4 227.5 384.2 C228.1 384 230.56 383.33 231.1 383.4 C231.64 383.47 233.5 384.8 234 385 C234.5 385.2 236.34 385.78 237.1 385.8 C237.86 385.82 242.19 385.3 243.1 385.3 C244.01 385.3 247.29 386 248 385.8 C248.71 385.6 251 382.9 251.6 382.9 C252.2 382.9 254.6 385.76 255.2 385.8 C255.8 385.84 258 383.9 258.8 383.4 C259.6 382.9 263.82 380.43 264.8 379.8 C265.78 379.18 269.63 376.55 270.5 375.9 C271.37 375.25 274.42 373.23 275.2 372 C275.98 370.77 279.18 363.11 279.9 361.1 C280.62 359.09 283.25 349.62 283.8 347.9 C284.35 346.18 286.02 341.57 286.5 340.5 C286.98 339.43 289.04 336.29 289.5 335 C289.96 333.71 291.54 326.86 292 325 C292.46 323.14 294.41 314.63 295 312.7 C295.59 310.77 298.31 303.28 299.1 301.8 C299.89 300.32 303.88 295.86 304.5 295 C305.12 294.14 306.14 292.2 306.5 291.5 C306.86 290.8 308.43 287.2 308.8 286.6 C309.18 286 310.61 284.5 311 284.3 C311.39 284.1 313.08 284.12 313.5 284.2 C313.92 284.28 315.6 284.94 316 285.3 C316.4 285.66 317.93 287.86 318.3 288.5 C318.67 289.14 320.11 292.04 320.4 293 C320.69 293.96 321.55 298.5 321.8 300 C322.05 301.5 323.13 309.42 323.4 311 C323.67 312.58 324.7 317.42 325 319 C325.3 320.58 326.66 328.02 327 330 C327.34 331.98 328.58 339.82 329.1 342.7 C329.62 345.57 332.62 361.98 333.2 364.5 C333.78 367.02 335.57 371.54 336.1 373 C336.63 374.46 338.96 380.73 339.6 382 C340.24 383.27 342.81 387.74 343.8 388.3 C344.79 388.86 350.57 388.47 351.5 388.7 C352.43 388.93 354.12 390.71 355 391.1 C355.88 391.49 360.89 393.56 362 393.4 C363.11 393.24 367.43 389.27 368.3 389.2 C369.18 389.12 372.15 392.23 372.5 392.5" fill="none" stroke="#c040e0" stroke-width="1.4" stroke-linejoin="round" stroke-linecap="butt" stroke-dasharray="0.8 3.4"/>
<text x="213.2" y="286" font-size="13" fill="#1a1a1a" font-style="italic" stroke="#1a1a1a" stroke-width="0.2">e)</text>
<line x1="216.2" y1="297.3" x2="227.4" y2="297.3" stroke="#38c838" stroke-width="1.3"/>
<text x="230.4" y="300.8" font-size="9.4" fill="#38c838" textLength="53.6" lengthAdjust="spacingAndGlyphs">S 2p (Mo—S)</text>
<line x1="216.2" y1="308.8" x2="227.4" y2="308.8" stroke="#55e844" stroke-width="1.3"/>
<text x="230.4" y="312" font-size="9.4" fill="#55e844" textLength="44.3" lengthAdjust="spacingAndGlyphs">S 2p (S—S)</text>
<text transform="translate(12.2 203.5) rotate(-90)" text-anchor="middle" font-size="12.5" fill="#1a1a1a" stroke="#1a1a1a" stroke-width="0.15" textLength="84.5" lengthAdjust="spacingAndGlyphs">Intensity / a.u.</text>
<text x="203.5" y="436.1" font-size="12.5" fill="#1a1a1a" text-anchor="middle" textLength="110" lengthAdjust="spacingAndGlyphs" stroke="#1a1a1a" stroke-width="0.15">Binding energy / eV</text>
</svg>
</body></html>
